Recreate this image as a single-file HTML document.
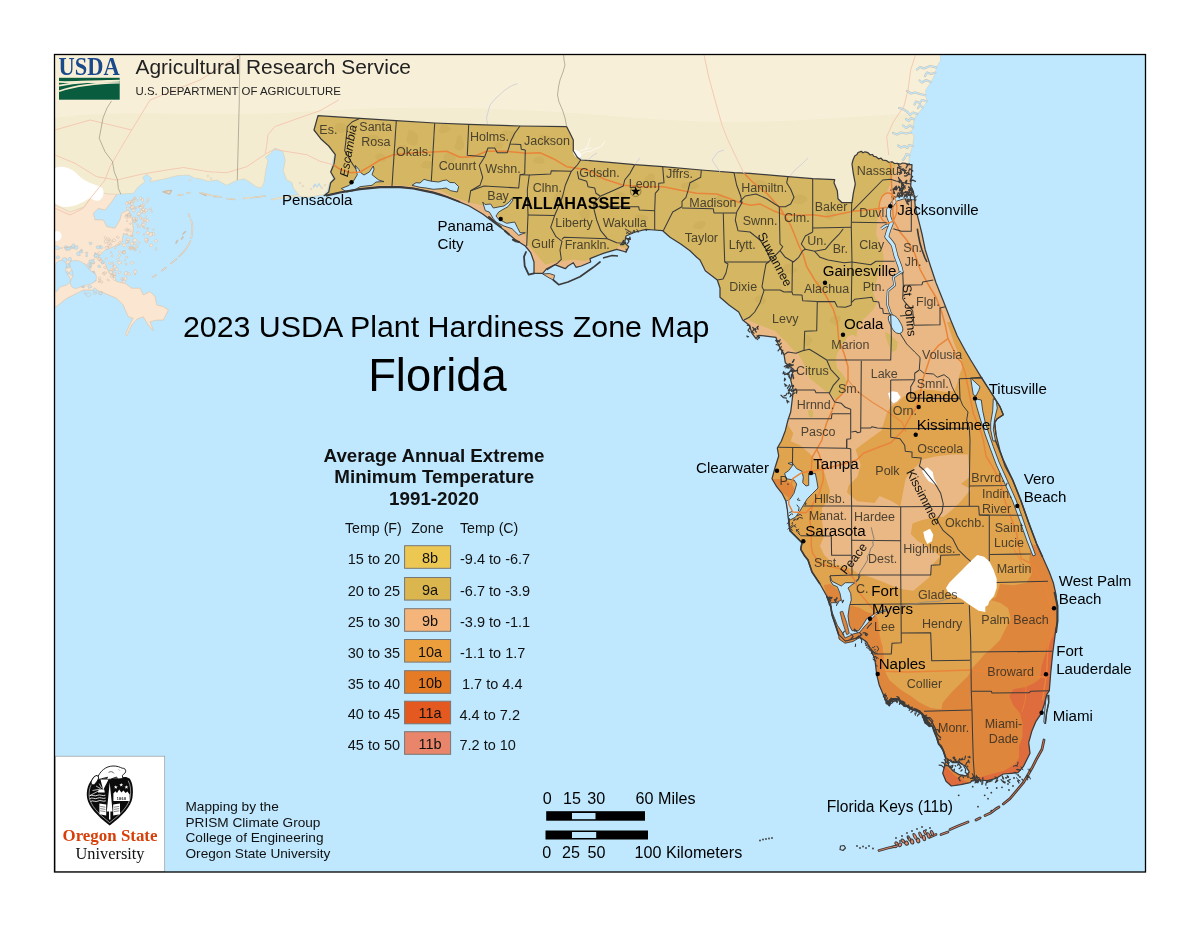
<!DOCTYPE html>
<html lang="en"><head><meta charset="utf-8"><title>2023 USDA Plant Hardiness Zone Map - Florida</title>
<style>
html,body{margin:0;padding:0;background:#fff;}
body{width:1200px;height:927px;overflow:hidden;position:relative;font-family:"Liberation Sans",Arial,sans-serif;}
svg{position:absolute;left:0;top:0;display:block}
text{font-family:"Liberation Sans",Arial,sans-serif;}
.cty{font-size:12.5px;fill:#4a3b1c;}
.city{font-size:14.5px;fill:#000;}
.lg{font-size:13.5px;fill:#111;}
.serif{font-family:"Liberation Serif","Times New Roman",serif;}
</style></head><body>
<svg width="1200" height="927" viewBox="0 0 1200 927">
<defs><clipPath id="frame"><rect x="55" y="55" width="1090" height="817"/></clipPath></defs>
<rect x="0" y="0" width="1200" height="927" fill="#fff"/>
<rect x="55" y="55" width="1090" height="817" fill="#bfe8ff"/>
<g clip-path="url(#frame)">
<path d="M55.0,55.0 L940.0,55.0 L940.0,60.7 L936.0,67.3 L935.3,72.7 L930.7,82.0 L925.3,90.0 L925.3,95.3 L926.7,101.3 L922.7,107.3 L917.3,114.0 L914.0,119.3 L913.3,127.3 L910.7,132.7 L914.0,135.3 L912.7,146.0 L909.3,155.3 L908.7,163.3 L912.0,166.0 L905.0,170.0 L870.0,175.0 L856.0,206.0 L835.0,206.0 L830.0,190.0 L600.0,175.0 L560.0,140.0 L340.0,135.0 L333.0,160.0 L330.7,172.0 L333.0,178.7 L329.5,183.0 L327.5,190.0 L324.0,194.7 L316.0,196.0 L306.7,197.3 L298.7,196.0 L280.0,198.7 L272.0,200.0 L271.0,199.0 L280.0,197.3 L298.7,194.7 L293.3,188.0 L292.0,182.7 L286.7,180.0 L283.3,170.7 L285.3,160.0 L282.7,151.3 L274.7,148.0 L270.7,153.3 L265.3,157.3 L268.0,160.0 L266.0,169.3 L264.0,182.7 L261.3,188.0 L256.0,186.7 L250.7,182.7 L244.0,178.7 L236.0,180.7 L226.7,185.3 L217.3,180.0 L208.0,181.3 L200.0,178.7 L195.0,178.3 L188.3,175.0 L176.7,175.8 L163.3,179.2 L150.0,181.7 L151.7,178.3 L146.7,174.2 L142.5,177.5 L145.0,181.7 L138.3,186.7 L133.3,193.3 L116.7,194.2 L111.7,201.7 L105.0,210.0 L98.3,208.3 L93.3,213.3 L95.0,220.0 L103.3,220.0 L106.7,226.7 L115.0,228.3 L120.0,220.0 L121.7,213.3 L128.3,210.0 L131.7,216.7 L133.3,230.0 L131.7,236.7 L123.3,233.3 L121.7,243.3 L113.3,246.7 L105.0,250.0 L98.3,256.7 L105.0,263.3 L108.3,271.7 L116.7,281.7 L125.0,283.3 L131.7,288.3 L140.0,288.3 L143.3,295.0 L150.0,291.7 L155.0,296.7 L156.7,305.0 L163.3,306.7 L168.3,310.0 L163.3,320.0 L156.7,320.0 L150.0,321.7 L153.3,330.8 L148.3,325.0 L143.3,316.7 L137.0,319.0 L131.7,325.0 L126.7,335.8 L125.5,334.5 L130.0,324.0 L133.3,318.3 L128.3,316.7 L123.3,305.0 L116.7,298.3 L105.0,293.3 L96.7,290.0 L83.3,290.0 L66.7,298.3 L55.0,307.5Z" fill="#f4ecd1" stroke="#d9c9a8" stroke-width="0.5" />
<defs><clipPath id="northclip"><path d="M55.0,55.0 L940.0,55.0 L940.0,60.7 L936.0,67.3 L935.3,72.7 L930.7,82.0 L925.3,90.0 L925.3,95.3 L926.7,101.3 L922.7,107.3 L917.3,114.0 L914.0,119.3 L913.3,127.3 L910.7,132.7 L914.0,135.3 L912.7,146.0 L909.3,155.3 L908.7,163.3 L912.0,166.0 L905.0,170.0 L870.0,175.0 L856.0,206.0 L835.0,206.0 L830.0,190.0 L600.0,175.0 L560.0,140.0 L340.0,135.0 L333.0,160.0 L330.7,172.0 L333.0,178.7 L329.5,183.0 L327.5,190.0 L324.0,194.7 L316.0,196.0 L306.7,197.3 L298.7,196.0 L280.0,198.7 L272.0,200.0 L271.0,199.0 L280.0,197.3 L298.7,194.7 L293.3,188.0 L292.0,182.7 L286.7,180.0 L283.3,170.7 L285.3,160.0 L282.7,151.3 L274.7,148.0 L270.7,153.3 L265.3,157.3 L268.0,160.0 L266.0,169.3 L264.0,182.7 L261.3,188.0 L256.0,186.7 L250.7,182.7 L244.0,178.7 L236.0,180.7 L226.7,185.3 L217.3,180.0 L208.0,181.3 L200.0,178.7 L195.0,178.3 L188.3,175.0 L176.7,175.8 L163.3,179.2 L150.0,181.7 L151.7,178.3 L146.7,174.2 L142.5,177.5 L145.0,181.7 L138.3,186.7 L133.3,193.3 L116.7,194.2 L111.7,201.7 L105.0,210.0 L98.3,208.3 L93.3,213.3 L95.0,220.0 L103.3,220.0 L106.7,226.7 L115.0,228.3 L120.0,220.0 L121.7,213.3 L128.3,210.0 L131.7,216.7 L133.3,230.0 L131.7,236.7 L123.3,233.3 L121.7,243.3 L113.3,246.7 L105.0,250.0 L98.3,256.7 L105.0,263.3 L108.3,271.7 L116.7,281.7 L125.0,283.3 L131.7,288.3 L140.0,288.3 L143.3,295.0 L150.0,291.7 L155.0,296.7 L156.7,305.0 L163.3,306.7 L168.3,310.0 L163.3,320.0 L156.7,320.0 L150.0,321.7 L153.3,330.8 L148.3,325.0 L143.3,316.7 L137.0,319.0 L131.7,325.0 L126.7,335.8 L125.5,334.5 L130.0,324.0 L133.3,318.3 L128.3,316.7 L123.3,305.0 L116.7,298.3 L105.0,293.3 L96.7,290.0 L83.3,290.0 L66.7,298.3 L55.0,307.5Z"/></clipPath></defs>
<path d="M55.0,205.0 L70.0,212.0 L84.0,207.0 L92.0,196.0 L100.0,192.0 L108.0,194.0 L116.7,194.2 L111.7,201.7 L105.0,210.0 L98.3,208.3 L93.3,213.3 L95.0,220.0 L103.3,220.0 L106.7,226.7 L115.0,228.3 L120.0,220.0 L121.7,213.3 L128.3,210.0 L131.7,216.7 L133.3,230.0 L131.7,236.7 L123.3,233.3 L121.7,243.3 L113.3,246.7 L105.0,250.0 L98.3,256.7 L105.0,263.3 L108.3,271.7 L116.7,281.7 L125.0,283.3 L131.7,288.3 L140.0,288.3 L143.3,295.0 L150.0,291.7 L155.0,296.7 L156.7,305.0 L163.3,306.7 L168.3,310.0 L163.3,320.0 L156.7,320.0 L150.0,321.7 L153.3,330.8 L148.3,325.0 L143.3,316.7 L137.0,319.0 L131.7,325.0 L126.7,335.8 L125.5,334.5 L130.0,324.0 L133.3,318.3 L128.3,316.7 L123.3,305.0 L116.7,298.3 L105.0,293.3 L96.7,290.0 L83.3,290.0 L66.7,298.3 L55.0,307.5Z" fill="#fbe6d1" stroke="#d8c2ab" stroke-width="0.5" />
<path d="M55,118 C120,108 200,118 300,112 C420,104 520,108 640,118 C740,126 800,120 870,116 C900,114 920,112 945,110 L945,55 L55,55Z" fill="#f7f0da" opacity="0.8" clip-path="url(#northclip)"/>
<path d="M55,168 C62,165 72,168 78,175 C84,181 92,184 99,186 C105,188 105,197 100,200 C95,203 92,197 88,199 C82,203 74,207 66,207 C61,207 57,205 55,203Z" fill="#fff"/>
<ellipse cx="57" cy="236" rx="4.5" ry="5" fill="#fff"/>
<defs><clipPath id="flclip"><path d="M318.0,115.7 L360.0,118.3 L396.0,120.7 L434.7,123.0 L468.7,124.4 L520.0,126.0 L566.7,126.7 L570.0,133.3 L573.3,140.0 L573.3,150.7 L577.3,157.3 L580.7,160.0 L590.0,160.7 L634.7,164.7 L662.7,166.7 L701.3,170.0 L734.0,172.7 L750.0,173.4 L788.0,176.7 L812.7,178.7 L834.7,179.7 L834.0,182.7 L837.3,190.7 L838.0,198.7 L842.0,202.7 L852.0,202.7 L853.3,193.3 L855.3,184.0 L853.3,173.3 L852.0,164.0 L853.0,160.0 L854.7,156.0 L857.0,154.5 L858.0,152.5 L861.3,151.3 L863.0,152.8 L865.0,151.8 L868.0,152.7 L870.0,154.8 L872.5,154.5 L874.0,156.5 L876.0,156.7 L878.5,158.8 L881.0,158.2 L883.0,160.2 L886.7,160.7 L889.0,162.4 L892.0,161.8 L894.5,163.5 L897.3,163.3 L900.0,164.2 L902.5,163.0 L905.3,163.3 L908.0,164.6 L912.0,164.7 L911.3,176.7 L910.7,186.0 L913.3,191.3 L914.7,199.3 L915.3,207.3 L918.7,220.7 L922.0,234.0 L925.3,250.0 L930.7,266.7 L936.0,282.7 L944.0,302.7 L950.7,320.0 L957.3,336.0 L965.3,350.7 L970.7,360.0 L981.3,377.3 L993.3,396.0 L1000.0,406.7 L1003.3,414.7 L997.3,418.7 L994.7,422.7 L996.0,434.7 L1000.0,450.7 L1005.3,466.7 L1012.7,480.0 L1020.7,500.0 L1028.7,522.7 L1036.7,544.0 L1042.7,557.3 L1049.3,572.0 L1053.3,582.7 L1056.0,594.7 L1057.3,606.7 L1057.3,621.3 L1055.3,633.3 L1052.7,653.3 L1050.7,673.3 L1049.3,690.7 L1046.7,694.7 L1044.0,705.3 L1041.3,713.3 L1036.0,721.3 L1032.0,730.7 L1028.7,742.7 L1030.0,753.3 L1027.3,758.7 L1023.3,766.7 L1018.0,772.7 L1011.3,773.3 L1003.3,774.0 L995.3,778.7 L987.3,780.7 L979.3,780.0 L972.7,780.0 L970.0,782.7 L960.7,784.7 L951.3,786.0 L946.0,781.3 L942.7,773.3 L944.7,765.3 L946.0,758.7 L943.3,750.7 L938.7,744.0 L936.7,737.3 L932.7,726.7 L924.7,721.3 L922.0,713.3 L920.0,712.0 L912.0,709.3 L904.0,705.3 L898.7,698.7 L891.3,698.7 L889.3,705.3 L886.0,701.3 L882.7,693.3 L879.3,685.3 L876.7,674.7 L875.3,662.7 L874.0,657.0 L871.0,650.7 L866.7,642.0 L860.0,637.3 L854.7,638.7 L845.3,641.3 L838.7,634.7 L834.7,622.7 L832.0,614.7 L830.7,606.7 L826.7,596.0 L820.0,584.0 L812.0,572.0 L808.0,560.0 L804.7,556.0 L800.7,549.3 L802.0,542.7 L795.3,536.0 L790.0,530.7 L788.7,521.3 L787.3,509.3 L786.0,501.3 L782.0,493.3 L776.7,486.7 L772.0,478.7 L775.3,466.7 L778.7,456.0 L777.3,448.0 L781.3,441.3 L785.3,430.7 L788.0,420.0 L790.7,412.0 L792.0,401.3 L793.3,390.7 L790.7,380.0 L793.3,369.3 L785.3,362.7 L784.0,354.7 L780.0,348.0 L777.3,342.0 L776.0,337.3 L758.7,335.3 L756.0,338.7 L752.0,333.3 L749.3,325.3 L742.7,320.0 L738.7,312.0 L729.3,305.3 L720.0,297.3 L720.0,288.0 L717.3,280.0 L705.3,270.7 L700.0,260.0 L696.7,257.3 L690.0,250.7 L680.7,244.0 L670.0,237.3 L662.7,230.7 L654.0,230.0 L646.0,229.3 L635.3,232.0 L626.0,236.0 L624.7,242.7 L628.7,246.7 L626.0,252.0 L616.7,249.3 L603.3,253.3 L590.0,258.7 L590.7,262.0 L581.3,266.0 L576.0,267.3 L573.3,262.7 L568.0,266.0 L565.3,268.7 L554.7,264.7 L546.7,268.7 L542.7,273.3 L534.0,273.3 L534.0,262.0 L530.7,252.7 L525.3,246.0 L514.7,239.3 L504.0,230.0 L493.3,222.0 L482.7,214.0 L469.3,206.0 L453.3,199.3 L440.0,194.0 L433.3,192.0 L413.3,188.0 L400.0,186.7 L380.0,186.7 L360.0,188.7 L340.0,192.0 L324.0,195.7 L328.7,192.0 L330.7,182.7 L334.7,178.7 L330.7,172.0 L334.0,164.0 L335.3,154.7 L328.7,146.0 L320.7,138.7 L314.0,130.0Z"/></clipPath></defs>
<g clip-path="url(#flclip)">
<rect x="300" y="100" width="800" height="720" fill="#d5b662"/>
<path d="M417.4,135.3 Q418.5,138.0 417.9,141.4 Q417.4,144.8 415.2,145.6 Q413.0,146.4 411.4,145.1 Q409.7,143.9 407.9,142.6 Q406.1,141.2 406.7,138.4 Q407.3,135.5 408.1,132.5 Q408.8,129.6 410.8,130.2 Q412.8,130.9 414.6,131.7 Q416.3,132.5 417.4,135.3ZM406.7,147.7 Q406.9,150.0 406.3,151.9 Q405.7,153.8 404.2,154.1 Q402.6,154.4 401.0,155.0 Q399.3,155.6 398.8,153.6 Q398.2,151.6 398.2,150.0 Q398.2,148.3 398.8,146.5 Q399.4,144.6 401.1,144.9 Q402.7,145.2 404.6,145.4 Q406.5,145.5 406.7,147.7ZM449.8,128.0 Q451.3,129.0 450.0,130.1 Q448.8,131.3 447.4,132.1 Q446.0,133.0 443.6,133.3 Q441.2,133.7 439.8,132.2 Q438.3,130.7 439.3,129.3 Q440.4,127.8 440.7,125.9 Q441.0,124.1 443.7,123.8 Q446.4,123.5 447.4,125.2 Q448.3,127.0 449.8,128.0ZM463.5,142.2 Q464.2,144.0 464.0,146.3 Q463.7,148.7 462.2,149.5 Q460.7,150.3 459.2,150.2 Q457.6,150.1 455.6,148.8 Q453.6,147.5 455.1,144.8 Q456.6,142.1 456.7,138.9 Q456.8,135.6 458.9,135.3 Q461.1,135.0 462.0,137.7 Q462.8,140.4 463.5,142.2ZM455.5,156.4 Q456.0,158.0 455.4,159.5 Q454.8,161.0 452.6,162.2 Q450.5,163.3 447.6,162.9 Q444.8,162.6 444.2,160.9 Q443.6,159.2 443.7,158.0 Q443.8,156.8 444.3,155.1 Q444.8,153.5 447.6,153.2 Q450.4,153.0 452.7,153.9 Q454.9,154.9 455.5,156.4ZM515.4,132.7 Q514.5,135.0 515.1,137.1 Q515.8,139.3 512.9,139.4 Q510.1,139.5 507.5,139.9 Q504.9,140.3 504.0,138.4 Q503.2,136.6 502.0,134.7 Q500.9,132.8 503.0,131.3 Q505.1,129.9 507.5,130.6 Q509.9,131.2 513.0,130.9 Q516.2,130.5 515.4,132.7ZM502.7,144.6 Q503.3,146.0 502.3,147.1 Q501.4,148.3 500.1,148.8 Q498.7,149.3 497.3,149.1 Q495.9,148.9 495.1,148.0 Q494.4,147.0 494.5,146.0 Q494.5,145.0 495.1,143.9 Q495.7,142.8 497.3,142.4 Q498.9,142.0 500.5,142.6 Q502.1,143.2 502.7,144.6ZM346.2,126.2 Q346.2,128.0 345.7,129.6 Q345.2,131.1 343.3,132.4 Q341.4,133.7 339.2,132.8 Q336.9,131.9 336.0,130.6 Q335.1,129.3 334.9,127.9 Q334.6,126.6 335.3,124.8 Q335.9,123.0 338.6,123.0 Q341.2,123.1 343.6,123.7 Q346.1,124.4 346.2,126.2ZM379.2,137.8 Q379.4,140.0 378.8,141.9 Q378.1,143.8 375.7,144.6 Q373.2,145.3 371.3,144.4 Q369.4,143.4 367.6,142.6 Q365.8,141.7 366.5,140.2 Q367.1,138.7 367.6,136.8 Q368.1,134.9 370.6,135.0 Q373.1,135.1 376.1,135.4 Q379.0,135.6 379.2,137.8ZM385.4,156.4 Q386.1,158.0 385.7,159.8 Q385.3,161.7 383.0,161.6 Q380.8,161.6 379.3,161.3 Q377.9,161.0 377.0,160.1 Q376.2,159.2 375.4,157.8 Q374.6,156.4 375.9,155.2 Q377.2,153.9 379.1,153.5 Q381.1,153.0 382.8,153.9 Q384.6,154.8 385.4,156.4ZM433.2,163.7 Q434.1,165.0 433.0,166.2 Q432.0,167.4 430.1,168.3 Q428.3,169.2 426.2,168.5 Q424.0,167.9 422.0,167.2 Q420.0,166.5 421.2,165.3 Q422.4,164.1 422.8,162.6 Q423.1,161.1 425.7,160.8 Q428.4,160.5 430.3,161.5 Q432.3,162.5 433.2,163.7ZM551.2,138.2 Q551.0,140.0 550.3,141.3 Q549.6,142.6 547.9,143.5 Q546.2,144.4 543.2,144.9 Q540.3,145.4 539.6,143.5 Q538.9,141.5 538.7,140.0 Q538.5,138.4 539.3,136.3 Q540.0,134.2 543.0,135.1 Q546.1,136.0 548.8,136.2 Q551.5,136.4 551.2,138.2ZM543.8,159.0 Q544.3,160.0 544.5,161.4 Q544.6,162.8 542.8,163.4 Q541.0,163.9 539.0,163.8 Q537.0,163.7 534.7,162.8 Q532.4,162.0 533.4,160.3 Q534.5,158.6 536.0,157.8 Q537.5,157.0 539.2,156.6 Q540.9,156.3 542.1,157.2 Q543.2,158.1 543.8,159.0ZM605.6,173.4 Q604.9,175.0 604.5,176.1 Q604.2,177.2 602.8,178.5 Q601.3,179.8 598.7,179.6 Q596.0,179.3 594.4,178.0 Q592.8,176.6 593.5,175.2 Q594.2,173.7 594.7,171.8 Q595.3,169.9 598.1,171.0 Q600.8,172.0 603.6,171.9 Q606.3,171.7 605.6,173.4ZM625.0,194.7 Q625.7,196.0 625.5,197.6 Q625.3,199.1 623.1,199.4 Q620.9,199.6 619.0,199.6 Q617.0,199.7 615.3,198.7 Q613.5,197.7 613.9,196.1 Q614.4,194.5 615.5,193.2 Q616.7,191.9 618.8,192.0 Q621.0,192.1 622.6,192.8 Q624.3,193.4 625.0,194.7ZM654.6,177.5 Q654.2,180.0 654.8,182.6 Q655.4,185.3 653.3,186.6 Q651.2,187.9 649.6,186.0 Q648.0,184.0 645.7,183.4 Q643.5,182.8 644.3,180.3 Q645.0,177.9 646.4,176.6 Q647.7,175.4 649.4,174.0 Q651.1,172.6 653.1,173.8 Q655.1,175.0 654.6,177.5ZM697.5,183.8 Q699.8,185.0 698.7,186.8 Q697.7,188.6 694.5,189.1 Q691.4,189.6 688.3,189.6 Q685.2,189.6 682.7,188.3 Q680.3,187.0 681.0,185.1 Q681.7,183.3 684.5,182.8 Q687.3,182.4 689.3,181.7 Q691.3,181.0 693.3,181.8 Q695.3,182.5 697.5,183.8ZM726.7,198.5 Q728.7,200.0 728.0,202.3 Q727.2,204.5 724.4,205.8 Q721.7,207.0 719.1,205.7 Q716.6,204.4 715.6,202.9 Q714.6,201.5 714.1,199.9 Q713.5,198.2 715.4,197.3 Q717.2,196.3 719.4,194.9 Q721.5,193.5 723.2,195.2 Q724.8,197.0 726.7,198.5ZM767.0,183.3 Q768.1,185.0 767.0,186.8 Q765.9,188.5 763.5,189.0 Q761.1,189.5 759.2,188.9 Q757.4,188.3 756.2,187.3 Q755.0,186.3 754.0,184.7 Q752.9,183.2 754.5,181.6 Q756.0,180.1 758.6,180.0 Q761.3,179.9 763.5,180.7 Q765.8,181.5 767.0,183.3ZM806.9,198.1 Q807.7,200.0 805.7,201.2 Q803.8,202.4 802.4,203.5 Q801.1,204.7 799.2,204.1 Q797.3,203.5 794.2,203.0 Q791.1,202.4 792.0,200.3 Q793.0,198.1 794.6,196.5 Q796.1,195.0 798.7,194.6 Q801.3,194.3 803.7,195.2 Q806.1,196.2 806.9,198.1ZM835.3,213.8 Q837.1,215.0 835.0,216.0 Q832.9,217.0 832.0,218.8 Q831.2,220.5 829.3,219.6 Q827.5,218.6 826.8,217.4 Q826.2,216.2 825.6,214.8 Q825.1,213.5 826.0,212.0 Q826.8,210.4 829.0,209.9 Q831.2,209.4 832.3,211.0 Q833.4,212.6 835.3,213.8ZM564.7,197.0 Q564.0,200.0 564.5,202.9 Q565.1,205.7 563.0,205.8 Q560.8,205.9 558.8,206.7 Q556.8,207.5 555.4,205.2 Q554.0,202.9 553.7,199.8 Q553.3,196.8 555.0,194.6 Q556.7,192.5 559.0,191.8 Q561.2,191.2 563.3,192.5 Q565.4,193.9 564.7,197.0ZM590.2,212.9 Q589.5,215.0 589.5,216.6 Q589.5,218.2 587.9,219.9 Q586.4,221.6 584.0,220.8 Q581.6,220.0 581.3,218.1 Q581.0,216.3 579.6,214.6 Q578.2,212.9 580.0,211.5 Q581.8,210.2 584.1,209.3 Q586.4,208.4 588.6,209.6 Q590.8,210.8 590.2,212.9ZM647.6,216.8 Q649.5,218.0 647.8,219.3 Q646.2,220.6 643.6,220.8 Q641.1,221.0 638.7,221.1 Q636.3,221.2 635.6,220.1 Q634.8,218.9 634.7,218.0 Q634.7,217.0 635.2,215.6 Q635.6,214.2 638.5,214.2 Q641.3,214.3 643.5,215.0 Q645.6,215.6 647.6,216.8ZM705.4,222.9 Q705.1,225.0 704.2,226.2 Q703.3,227.3 702.1,228.4 Q700.9,229.5 699.1,229.3 Q697.2,229.2 694.7,228.3 Q692.2,227.4 693.5,225.4 Q694.8,223.4 696.2,222.4 Q697.6,221.4 699.2,221.3 Q700.8,221.1 703.3,221.0 Q705.7,220.9 705.4,222.9ZM752.0,243.3 Q753.8,245.0 753.0,247.3 Q752.3,249.6 749.2,249.9 Q746.2,250.2 743.4,250.4 Q740.7,250.6 739.0,248.8 Q737.4,247.1 737.6,245.0 Q737.8,243.0 740.0,242.2 Q742.3,241.4 744.2,241.0 Q746.1,240.5 748.2,241.1 Q750.3,241.7 752.0,243.3ZM795.9,268.8 Q798.4,270.0 796.1,271.4 Q793.9,272.8 792.3,273.3 Q790.8,273.7 788.9,274.0 Q787.1,274.3 785.8,273.0 Q784.5,271.7 783.5,269.7 Q782.6,267.7 784.3,265.8 Q785.9,264.0 788.6,263.8 Q791.3,263.7 792.3,265.7 Q793.3,267.6 795.9,268.8ZM828.0,283.3 Q829.5,285.0 828.3,286.9 Q827.1,288.7 824.3,289.5 Q821.5,290.3 818.7,289.8 Q816.0,289.4 814.2,288.0 Q812.5,286.7 813.6,285.3 Q814.8,283.8 815.3,282.1 Q815.7,280.4 818.4,280.8 Q821.1,281.1 823.8,281.4 Q826.5,281.6 828.0,283.3ZM764.9,298.8 Q766.4,300.0 765.7,301.8 Q765.0,303.5 763.0,304.1 Q761.0,304.6 759.5,303.7 Q758.0,302.8 756.5,302.2 Q755.0,301.5 754.6,299.9 Q754.2,298.2 755.7,297.1 Q757.1,295.9 759.1,295.4 Q761.1,295.0 762.3,296.3 Q763.4,297.6 764.9,298.8ZM840.7,317.7 Q840.9,320.0 839.6,321.3 Q838.2,322.7 837.1,324.5 Q836.1,326.3 834.4,325.1 Q832.8,323.9 831.0,323.0 Q829.2,322.1 829.6,320.2 Q830.1,318.2 831.4,317.2 Q832.8,316.2 834.3,316.0 Q835.8,315.7 838.1,315.6 Q840.4,315.4 840.7,317.7ZM812.0,338.8 Q813.6,340.0 812.1,341.3 Q810.5,342.6 809.7,344.5 Q808.9,346.4 807.1,346.1 Q805.2,345.7 804.1,344.0 Q803.0,342.2 803.4,340.2 Q803.8,338.2 804.7,336.7 Q805.7,335.2 807.2,335.1 Q808.7,335.1 809.5,336.3 Q810.4,337.6 812.0,338.8Z" fill="#b99a4a" opacity="0.22"/>
<path d="M896.0,150.0 L896.0,163.3 L892.0,179.3 L886.7,192.7 L880.0,199.3 L878.7,210.0 L877.3,222.0 L876.0,234.0 L881.3,246.7 L882.7,250.7 L884.0,261.3 L877.3,277.3 L873.2,292.9 L877.1,302.0 L873.2,309.8 L868.0,315.0 L862.8,320.1 L857.7,327.9 L856.4,337.0 L852.5,334.4 L847.3,337.0 L844.7,342.1 L840.8,347.3 L837.0,353.8 L835.7,360.3 L837.0,368.0 L842.1,373.2 L847.3,381.0 L846.0,390.0 L840.8,396.5 L835.7,400.0 L830.5,393.9 L824.0,390.0 L816.2,383.6 L809.8,378.4 L805.9,368.0 L802.0,360.3 L798.1,353.8 L791.7,348.6 L785.2,340.8 L782.7,338.7 L774.7,330.7 L760.0,325.3 L745.3,318.7 L735.0,318.0 L700.0,400.0 L700.0,850.0 L1100.0,850.0 L1100.0,150.0Z" fill="#eab884" stroke="none" stroke-width="1" />
<path d="M884.9,331.8 L890.0,334.4 L893.9,338.3 L897.8,342.1 L896.5,349.9 L891.3,352.5 L888.7,344.7 L886.1,338.3Z" fill="#d5b662" stroke="none" stroke-width="1" />
<path d="M808.0,410.7 L811.0,409.5 L813.3,412.0 L813.0,417.3 L809.0,417.0Z" fill="#d5b662" stroke="none" stroke-width="1" />
<path d="M430.0,186.0 L440.0,190.5 L453.0,197.0 L470.7,203.0 L484.0,205.5 L496.0,214.0 L502.7,220.7 L514.7,230.0 L525.3,235.3 L528.0,244.7 L536.0,254.0 L545.3,264.7 L553.3,262.5 L560.0,261.5 L573.3,259.5 L585.0,261.0 L600.0,255.0 L604.0,262.0 L560.0,290.0 L520.0,285.0 L430.0,200.0Z" fill="#eab884" stroke="none" stroke-width="1" />
<path d="M618.0,246.0 L624.0,248.0 L630.0,246.0 L632.0,256.0 L616.0,256.0Z" fill="#eab884" stroke="none" stroke-width="1" />
<path d="M694.0,256.0 L698.0,258.0 L703.0,266.0 L708.0,271.0 L716.0,278.0 L712.0,284.0 L690.0,262.0Z" fill="#eab884" stroke="none" stroke-width="1" />
<path d="M330.0,194.0 L345.0,190.0 L360.0,187.2 L380.0,185.2 L400.0,185.2 L413.3,186.5 L433.3,190.5 L440.0,193.0 L440.0,200.0 L330.0,200.0Z" fill="#eab884" stroke="none" stroke-width="1" />
<path d="M780.0,426.0 L788.0,425.0 L793.3,433.3 L790.7,441.3 L800.0,445.3 L808.0,452.0 L846.0,454.0 L850.0,450.0 L855.5,449.4 L869.4,439.0 L881.4,430.4 L886.7,413.3 L890.7,406.7 L897.3,402.7 L902.7,397.3 L909.3,393.3 L920.0,389.3 L933.3,390.0 L946.7,392.0 L954.7,390.7 L957.3,382.7 L960.0,373.3 L962.7,366.7 L961.3,360.0 L954.7,345.3 L950.7,333.3 L947.0,322.0 L1100.0,322.0 L1100.0,850.0 L700.0,850.0 L700.0,426.0Z" fill="#e0a44f" stroke="none" stroke-width="1" />
<path d="M812.0,440.0 L850.0,440.0 L856.0,448.0 L855.5,449.4 L860.7,464.9 L857.3,477.0 L848.6,485.6 L846.9,492.5 L857.3,501.2 L874.5,502.9 L879.7,496.0 L891.8,501.2 L900.4,506.4 L905.6,478.7 L912.0,470.0 L917.7,464.9 L921.2,459.7 L936.7,456.3 L952.2,454.5 L967.8,454.5 L969.5,477.0 L960.9,483.9 L971.2,489.1 L960.9,501.2 L952.2,509.8 L943.6,516.7 L936.7,516.7 L921.2,520.2 L912.5,523.6 L910.8,534.0 L917.7,540.9 L929.8,547.8 L940.2,556.4 L933.3,563.4 L929.3,577.3 L921.3,584.0 L913.3,590.7 L902.7,589.3 L890.7,585.3 L881.3,581.3 L870.7,577.3 L857.3,573.3 L852.0,568.7 L844.0,566.7 L833.3,564.0 L824.0,554.7 L820.0,546.0 L824.0,536.0 L822.0,520.0 L822.0,508.0 L828.0,500.0 L830.0,490.7 L827.3,482.7 L824.7,473.3 L818.0,462.0 L812.0,456.0 L808.0,452.0Z" fill="#eab884" stroke="none" stroke-width="1" />
<path d="M1040.0,546.0 L1030.7,544.0 L1029.3,560.0 L1032.0,573.3 L1026.7,582.7 L1013.3,585.3 L1000.0,584.0 L996.0,597.3 L990.7,600.0 L1000.0,602.7 L1008.0,608.0 L1010.7,618.7 L1005.3,629.3 L1000.0,640.0 L990.7,649.3 L984.0,654.7 L978.7,661.3 L973.3,666.7 L968.0,676.0 L960.0,684.0 L950.7,693.3 L942.7,702.7 L941.3,709.3 L930.7,708.0 L920.0,702.7 L910.7,696.0 L900.0,689.3 L889.3,680.0 L885.3,672.0 L882.7,653.3 L882.7,646.7 L878.7,636.0 L877.3,625.3 L876.0,614.7 L866.7,612.0 L860.0,608.0 L850.0,605.3 L840.0,606.0 L820.0,640.0 L820.0,820.0 L1100.0,820.0 L1100.0,546.0Z" fill="#de863c" stroke="none" stroke-width="1" />
<path d="M824.0,585.0 L830.0,584.0 L836.0,588.0 L840.0,593.0 L841.5,600.0 L836.0,603.0 L830.7,603.0 L826.0,596.0Z" fill="#de863c" stroke="none" stroke-width="1" />
<path d="M772.0,479.0 L779.0,479.0 L786.0,480.0 L792.0,484.0 L795.0,490.0 L792.0,496.0 L789.0,498.0 L784.0,494.0 L778.0,488.0Z" fill="#de863c" stroke="none" stroke-width="1" />
<path d="M1060.0,628.0 L1055.0,628.0 L1053.3,636.0 L1048.0,644.0 L1045.3,654.7 L1041.3,666.7 L1040.0,678.7 L1034.7,682.7 L1026.7,686.7 L1013.3,689.3 L1009.3,696.0 L1013.3,705.3 L1020.0,713.3 L1022.7,724.0 L1022.5,737.3 L1019.0,746.0 L1019.0,757.7 L1015.0,763.7 L1008.3,768.3 L1003.7,771.0 L991.7,774.0 L979.3,777.5 L979.0,800.0 L1100.0,800.0 L1100.0,628.0Z" fill="#df6c3c" stroke="none" stroke-width="1" />
<path d="M938.0,765.0 L944.0,765.3 L950.0,770.7 L955.3,776.0 L963.3,780.0 L968.7,783.3 L968.0,792.0 L938.0,792.0Z" fill="#df6c3c" stroke="none" stroke-width="1" />
</g>
<path d="M133.7,235.2 L132.5,235.9 L131.6,236.4 L130.6,236.0 L130.7,234.7 L131.7,234.1 L132.7,234.2ZM144.9,209.7 L144.8,211.1 L142.9,210.7 L141.4,210.5 L141.7,209.0 L142.9,208.2 L144.1,208.3ZM135.8,198.2 L135.5,199.4 L134.3,199.4 L133.4,198.7 L133.5,197.6 L134.3,197.1 L135.8,196.8ZM148.2,201.7 L147.8,202.5 L146.9,202.6 L145.7,202.2 L146.3,201.4 L146.8,200.7 L148.0,200.9ZM145.4,204.3 L144.6,205.0 L143.7,205.6 L142.5,204.8 L142.5,203.7 L143.7,203.5 L144.4,203.7ZM139.9,206.4 L139.6,206.8 L139.0,207.4 L138.4,206.7 L138.5,205.9 L139.2,205.8 L139.9,205.7ZM132.4,248.1 L131.0,248.9 L130.3,249.3 L129.1,248.6 L129.3,247.7 L130.2,246.9 L131.8,246.7ZM146.5,216.5 L146.3,217.0 L145.6,217.5 L145.2,216.9 L145.1,216.2 L145.6,215.5 L146.4,215.8ZM133.4,200.0 L133.1,200.6 L132.5,200.7 L132.0,200.4 L132.1,199.7 L132.5,199.2 L133.5,199.3ZM137.4,240.1 L136.0,241.7 L133.9,242.3 L133.1,240.9 L132.8,239.2 L134.2,238.8 L135.5,238.6ZM154.0,229.4 L154.2,230.2 L153.2,230.2 L152.8,229.7 L152.7,229.0 L153.2,228.5 L153.9,229.0ZM131.2,223.7 L131.0,224.3 L130.2,224.7 L129.7,224.1 L129.4,223.4 L130.2,222.9 L131.1,223.0ZM134.5,247.9 L133.7,248.5 L133.0,248.8 L131.6,248.4 L132.6,247.6 L132.9,246.8 L134.1,246.9ZM142.0,217.7 L141.7,218.7 L140.5,219.0 L139.7,218.3 L139.5,217.2 L140.5,216.9 L141.3,217.1ZM140.3,251.7 L140.4,252.4 L139.6,252.6 L139.3,251.9 L139.4,251.5 L139.8,251.2 L140.2,251.4ZM128.3,203.0 L127.9,204.3 L126.4,205.2 L125.4,203.7 L125.7,202.4 L126.6,201.4 L127.9,202.1ZM148.8,228.1 L148.7,229.0 L147.8,228.6 L147.0,228.4 L147.2,227.7 L147.7,227.5 L148.5,227.5ZM134.8,207.2 L133.8,208.4 L132.1,209.3 L130.4,207.9 L130.3,206.3 L132.0,205.7 L134.2,205.6ZM152.4,234.5 L151.7,236.0 L150.0,236.7 L148.5,235.3 L149.7,234.0 L150.0,232.4 L152.5,232.7ZM137.6,220.7 L136.8,221.2 L136.3,221.1 L135.8,221.0 L135.9,220.4 L136.3,220.1 L136.8,220.2ZM130.6,216.3 L130.3,218.0 L128.2,217.4 L127.3,216.8 L127.0,215.4 L128.0,214.5 L129.7,215.1ZM136.1,249.8 L135.8,250.6 L134.7,251.2 L134.3,250.2 L133.4,248.9 L134.8,248.8 L135.8,249.0ZM157.5,240.9 L156.9,241.8 L155.8,242.6 L154.5,241.6 L154.8,240.5 L155.8,239.4 L157.1,239.8ZM149.3,221.0 L148.4,221.8 L147.4,222.2 L145.8,221.7 L145.6,220.1 L147.0,218.9 L148.6,219.8ZM149.5,232.8 L148.9,234.2 L147.0,234.3 L145.8,233.5 L145.9,232.2 L147.1,231.5 L148.6,231.6ZM130.3,203.1 L130.6,204.3 L129.2,204.0 L128.7,203.4 L128.8,202.7 L129.2,202.3 L130.8,201.8ZM144.4,205.6 L143.6,207.1 L141.9,206.5 L140.5,206.4 L141.3,205.1 L141.9,204.7 L142.7,204.8ZM138.1,224.7 L138.3,225.3 L137.5,225.3 L137.0,224.9 L136.6,224.2 L137.5,223.7 L138.2,224.0ZM134.3,207.9 L132.5,208.7 L131.7,209.3 L130.6,208.6 L130.1,207.2 L131.6,206.7 L133.0,206.8ZM153.0,245.2 L152.3,245.9 L151.2,246.9 L149.3,246.1 L150.1,244.5 L151.1,243.6 L152.5,244.3ZM129.6,239.3 L129.8,240.7 L127.9,240.5 L126.3,240.1 L126.5,238.6 L128.0,238.3 L129.1,238.5ZM153.0,211.7 L152.1,212.2 L151.4,212.4 L150.9,212.0 L151.0,211.4 L151.3,210.6 L152.3,210.9ZM138.0,200.3 L138.2,201.3 L137.1,201.2 L136.8,200.5 L136.3,199.7 L137.0,199.3 L137.8,199.5ZM138.0,246.6 L138.0,247.4 L136.8,247.8 L135.4,247.3 L136.2,246.3 L136.9,245.9 L138.3,245.4ZM144.6,227.7 L144.6,228.3 L143.8,228.6 L143.6,227.9 L143.5,227.4 L143.9,226.9 L144.7,227.0ZM131.1,230.5 L130.8,232.1 L129.3,231.5 L128.6,230.9 L127.6,229.6 L129.1,229.0 L130.4,229.5ZM129.0,242.0 L129.0,242.8 L128.2,242.7 L126.7,242.6 L127.5,241.6 L128.0,241.1 L128.9,241.4ZM139.7,215.2 L139.4,215.9 L138.7,215.7 L137.7,215.6 L137.9,214.8 L138.6,214.6 L139.2,214.8ZM132.2,202.1 L130.9,203.3 L129.5,203.7 L127.7,203.0 L128.2,201.2 L129.5,200.7 L130.9,200.9ZM149.4,199.1 L149.1,200.0 L148.0,200.4 L147.3,199.5 L147.0,198.6 L148.1,198.1 L148.8,198.5ZM143.8,225.9 L143.0,227.1 L141.7,227.0 L140.6,226.4 L140.9,225.5 L141.7,224.8 L142.4,225.3ZM143.0,211.3 L142.6,212.9 L141.3,213.1 L140.6,211.8 L139.9,210.6 L141.2,209.4 L142.6,210.3ZM135.5,218.8 L135.8,220.2 L134.1,220.2 L132.3,219.6 L132.7,218.0 L134.1,217.1 L135.4,217.5ZM145.5,224.6 L144.0,225.4 L142.8,226.5 L141.6,225.2 L141.6,223.6 L142.9,223.4 L144.5,223.0ZM154.8,234.1 L154.4,235.1 L153.0,235.2 L152.0,234.7 L152.3,233.5 L152.7,232.1 L154.4,232.9ZM156.7,250.0 L156.2,250.7 L155.6,250.5 L155.2,250.3 L155.1,249.9 L155.6,249.5 L156.1,249.5ZM127.3,214.9 L126.8,215.7 L126.0,215.7 L125.1,215.3 L125.3,214.5 L126.0,214.2 L127.2,214.0ZM140.8,205.9 L140.7,206.4 L140.0,206.4 L139.0,206.3 L139.5,205.5 L140.0,205.4 L140.8,205.2ZM130.1,214.3 L129.9,215.8 L128.6,215.5 L126.6,215.2 L128.0,213.9 L128.5,213.0 L129.7,213.0ZM139.7,232.6 L138.7,233.5 L137.7,233.7 L136.8,233.2 L136.6,232.1 L137.9,231.9 L138.8,231.8ZM136.3,249.4 L136.1,250.3 L135.2,250.2 L134.4,249.9 L134.4,248.8 L135.2,248.5 L135.9,248.8ZM136.8,243.7 L136.2,244.6 L134.9,244.7 L133.5,244.4 L134.3,243.1 L134.9,242.6 L135.7,242.9ZM151.4,208.8 L151.4,209.6 L150.4,209.6 L149.0,209.3 L149.2,208.3 L150.4,208.2 L151.2,207.9ZM137.2,218.5 L137.1,219.5 L135.7,219.8 L135.3,218.8 L134.8,217.9 L135.7,217.0 L136.8,217.6ZM143.9,221.6 L143.2,222.1 L142.5,222.8 L141.9,222.0 L141.9,221.1 L142.6,220.4 L143.5,220.8ZM137.2,207.4 L136.5,208.0 L135.7,208.7 L134.7,207.9 L135.0,207.0 L135.9,206.8 L136.9,206.6ZM136.5,208.2 L136.3,208.8 L135.7,208.7 L135.1,208.5 L135.2,207.9 L135.7,207.7 L136.2,207.8ZM129.0,241.8 L128.1,242.8 L126.8,243.6 L125.7,242.3 L125.3,240.9 L126.9,240.6 L128.0,240.6ZM128.8,230.8 L127.8,231.3 L127.3,231.4 L126.7,231.2 L126.3,230.4 L127.2,229.8 L128.2,229.9ZM135.3,198.4 L135.3,199.2 L134.5,199.1 L134.0,198.7 L133.9,198.0 L134.5,197.7 L135.1,197.8ZM130.8,214.7 L130.6,215.8 L128.9,216.9 L127.0,215.6 L128.0,213.9 L129.0,212.9 L130.4,213.8ZM129.4,208.1 L128.4,209.0 L127.3,209.8 L126.6,208.5 L126.0,207.5 L127.6,207.2 L128.7,206.9ZM147.5,210.2 L147.4,211.6 L145.4,212.1 L144.5,210.7 L144.4,209.6 L145.5,208.9 L146.8,208.9ZM157.0,248.0 L156.9,248.5 L156.2,248.7 L155.7,248.3 L155.7,247.7 L156.2,247.4 L156.7,247.6ZM128.5,229.4 L127.6,230.3 L126.2,230.8 L124.7,230.1 L125.4,228.8 L126.3,228.2 L127.3,228.5ZM134.1,201.2 L134.4,202.7 L132.5,202.2 L131.5,201.7 L131.2,200.5 L132.5,200.3 L133.9,200.2ZM140.8,214.1 L140.0,215.5 L138.1,216.2 L136.8,214.9 L137.3,213.6 L138.3,212.1 L140.2,212.4ZM144.3,234.8 L144.4,235.6 L143.7,235.3 L143.2,235.0 L143.3,234.5 L143.6,233.7 L144.6,234.0ZM133.1,203.6 L132.9,204.8 L131.3,205.0 L130.7,204.1 L130.0,203.0 L131.3,201.9 L132.7,202.3ZM146.4,220.1 L146.2,221.0 L144.9,221.7 L144.5,220.6 L143.6,219.3 L145.0,218.5 L146.7,218.8ZM139.5,226.8 L139.4,227.6 L138.6,227.3 L137.5,227.2 L137.9,226.4 L138.5,225.7 L139.1,226.2ZM132.9,236.3 L133.1,237.1 L132.1,236.8 L131.7,236.6 L131.2,235.9 L132.1,235.3 L132.8,235.8ZM133.4,244.0 L132.4,244.8 L131.5,245.3 L130.2,244.7 L130.6,243.4 L131.3,242.1 L133.2,242.2ZM127.4,217.0 L127.4,218.4 L126.1,218.2 L125.3,217.5 L124.7,216.3 L126.2,215.9 L127.3,216.1ZM148.5,238.8 L148.3,239.3 L147.7,239.6 L147.1,239.1 L147.1,238.4 L147.7,237.9 L148.2,238.4ZM133.4,248.3 L132.6,249.2 L131.4,250.0 L130.4,249.1 L129.4,247.4 L131.5,247.1 L133.5,246.7ZM148.3,239.9 L147.5,241.6 L145.6,242.1 L144.8,240.5 L144.6,239.3 L145.3,237.7 L146.8,238.9ZM143.5,207.6 L141.3,208.4 L140.4,208.6 L139.4,208.2 L139.2,207.1 L140.3,206.3 L141.6,206.7ZM127.6,220.8 L127.5,221.5 L126.7,221.6 L126.3,221.1 L126.5,220.6 L126.9,220.4 L127.4,220.3ZM128.1,233.9 L127.3,234.4 L126.8,234.8 L125.9,234.3 L126.4,233.6 L126.7,233.0 L127.3,233.5ZM131.4,248.1 L130.9,249.5 L129.3,249.7 L129.0,248.5 L127.5,247.1 L129.3,246.4 L130.7,246.8ZM135.9,220.9 L135.6,222.3 L134.0,222.9 L133.7,221.3 L133.1,220.1 L134.2,219.2 L135.8,219.9ZM136.8,221.2 L135.9,222.0 L134.9,222.0 L134.2,221.6 L133.4,220.6 L134.7,219.9 L135.6,220.5ZM145.6,212.3 L144.7,213.5 L143.3,213.3 L142.6,212.9 L142.8,211.9 L143.3,211.4 L144.2,211.5ZM143.6,199.9 L143.7,201.3 L142.1,201.4 L141.1,200.5 L141.4,199.5 L142.2,198.5 L143.5,198.9ZM148.0,241.3 L147.8,242.3 L146.8,242.9 L145.6,242.0 L145.8,240.8 L146.8,240.4 L147.9,240.3ZM141.6,198.2 L141.3,199.5 L139.9,199.5 L139.3,198.7 L139.2,197.7 L139.9,197.0 L141.5,197.0ZM147.6,229.1 L147.6,229.7 L146.7,230.1 L145.9,229.6 L145.8,228.6 L146.8,228.4 L147.7,228.4ZM135.3,210.3 L134.6,211.7 L132.8,211.7 L132.1,210.7 L131.7,209.6 L132.7,208.8 L133.9,209.2ZM140.7,242.6 L139.9,243.3 L139.1,243.4 L138.5,243.1 L138.7,242.2 L139.2,241.9 L139.9,242.0ZM144.4,219.0 L143.4,219.9 L142.3,220.2 L141.5,219.4 L141.2,218.2 L142.3,217.8 L143.1,218.4Z" fill="#fbe6d1" stroke="#cdbfae" stroke-width="0.5"/>
<path d="M99.8,281.9 L99.3,282.4 L98.7,283.0 L98.0,282.3 L98.0,281.5 L98.8,281.3 L99.4,281.2ZM107.1,241.5 L106.5,242.8 L104.9,243.2 L104.3,242.2 L104.3,241.1 L105.0,239.7 L106.7,240.3ZM125.6,251.9 L125.2,253.3 L123.5,253.7 L121.7,252.8 L122.6,251.1 L123.8,250.8 L125.3,250.4ZM123.2,278.9 L123.2,280.3 L121.8,280.3 L121.0,279.4 L121.0,278.4 L121.7,277.3 L122.9,277.7ZM126.7,278.5 L126.9,279.9 L124.9,280.2 L123.9,279.2 L124.2,277.9 L125.1,276.7 L126.5,277.4ZM111.6,244.7 L111.3,245.7 L110.0,246.2 L108.9,245.3 L109.1,244.2 L110.1,243.5 L111.4,243.6ZM134.2,262.8 L132.8,263.8 L131.7,264.2 L130.7,263.4 L130.9,262.3 L131.8,261.8 L133.2,261.7ZM136.7,271.6 L136.2,272.7 L135.0,273.7 L133.6,272.6 L134.1,271.1 L134.8,269.4 L136.3,270.5ZM126.7,264.2 L127.0,265.1 L125.7,265.0 L125.4,264.4 L125.2,263.9 L125.6,263.0 L126.5,263.5ZM109.7,280.0 L109.1,281.0 L108.1,281.1 L107.3,280.5 L106.9,279.4 L108.0,279.0 L108.8,279.5ZM112.6,271.9 L112.3,273.6 L110.1,273.2 L108.8,272.9 L109.4,271.3 L110.1,270.3 L111.3,270.8ZM104.8,274.0 L104.7,275.1 L103.5,274.9 L102.9,274.4 L102.0,273.2 L103.4,272.6 L104.9,272.8ZM100.6,260.5 L100.7,261.1 L99.8,261.1 L99.2,260.8 L99.4,260.2 L99.8,260.0 L100.5,259.9ZM101.2,278.6 L100.0,279.5 L98.9,279.8 L98.4,279.1 L98.3,278.1 L99.0,277.0 L100.4,277.4ZM119.4,259.8 L118.7,260.5 L117.8,261.1 L117.2,260.2 L116.7,259.2 L118.0,258.5 L119.1,258.9ZM116.4,266.4 L115.6,268.0 L114.0,268.1 L113.5,266.9 L112.9,265.8 L114.0,264.6 L115.5,265.4ZM114.1,262.8 L113.5,263.5 L112.8,263.4 L112.2,263.2 L112.3,262.4 L112.6,261.7 L113.3,262.3ZM110.8,263.4 L110.9,264.4 L109.7,264.2 L108.6,264.0 L108.4,262.8 L109.5,262.0 L110.9,262.3ZM120.7,255.9 L120.2,256.6 L119.3,257.2 L118.9,256.4 L118.5,255.3 L119.4,254.4 L120.7,254.7ZM125.5,260.3 L125.2,260.7 L124.7,261.3 L124.3,260.5 L124.5,260.0 L124.7,259.4 L125.5,259.7ZM102.8,281.8 L102.6,282.9 L101.1,283.2 L100.5,282.3 L100.5,281.5 L101.2,280.8 L102.3,280.9ZM113.1,255.9 L112.9,256.7 L112.0,256.9 L110.7,256.4 L111.5,255.5 L112.0,254.5 L113.0,255.0ZM116.0,278.8 L115.7,280.3 L113.7,280.3 L113.0,279.3 L113.2,278.3 L113.8,276.9 L114.9,277.8ZM116.1,240.4 L115.1,241.6 L113.7,241.6 L112.4,241.1 L112.4,239.6 L113.7,238.8 L115.0,239.6ZM121.4,252.1 L120.5,253.1 L119.6,253.2 L118.9,252.5 L118.4,251.5 L119.6,251.0 L120.7,251.3ZM112.0,252.4 L111.9,253.1 L111.0,252.9 L110.2,252.8 L110.0,252.0 L110.9,251.7 L111.6,251.8ZM106.8,237.7 L106.6,238.9 L105.4,239.3 L104.3,238.2 L104.2,237.1 L105.3,236.3 L106.2,237.0ZM120.4,272.6 L120.2,273.3 L119.2,274.0 L118.5,273.1 L118.5,272.1 L119.2,271.4 L120.5,271.6ZM126.1,245.3 L125.1,246.4 L123.4,246.8 L122.6,245.9 L122.3,244.6 L123.5,243.8 L125.5,243.8ZM115.8,274.1 L115.8,275.4 L114.1,275.6 L113.0,274.8 L113.3,273.5 L114.1,272.8 L115.7,272.5ZM121.8,262.9 L119.9,263.8 L118.6,264.2 L117.5,263.4 L117.6,262.4 L118.6,261.4 L120.6,261.1ZM118.6,269.5 L117.6,270.4 L116.7,270.4 L115.3,270.2 L115.5,268.8 L116.6,267.8 L117.9,268.5ZM125.5,252.3 L124.6,253.4 L123.2,254.1 L122.5,252.7 L122.7,251.8 L123.5,251.3 L124.2,251.5ZM130.6,273.7 L130.5,274.9 L128.9,275.3 L128.0,274.2 L128.4,273.4 L129.1,272.3 L130.0,273.0ZM122.9,279.4 L122.8,279.9 L122.2,280.0 L121.9,279.6 L121.6,279.1 L122.2,278.6 L122.8,278.8ZM100.5,259.0 L100.2,260.4 L98.3,260.5 L97.3,259.5 L97.1,258.3 L98.4,257.6 L99.9,257.8ZM124.1,251.7 L123.8,252.2 L123.2,252.5 L122.1,252.1 L122.8,251.4 L123.1,250.6 L124.3,250.8ZM106.3,267.8 L105.6,268.6 L104.7,268.5 L104.0,268.3 L103.5,267.3 L104.4,266.5 L105.8,266.9ZM116.1,248.4 L115.7,248.8 L115.1,249.2 L114.4,248.7 L114.8,248.0 L115.2,247.7 L115.9,247.6ZM100.4,280.5 L100.5,281.4 L99.5,281.3 L99.0,280.8 L99.2,280.2 L99.4,279.3 L100.4,279.6ZM113.0,241.4 L112.4,241.9 L111.9,242.3 L111.5,241.7 L111.1,241.0 L111.9,240.6 L112.4,241.0ZM108.9,247.7 L108.1,249.3 L106.3,249.0 L105.3,248.2 L104.9,246.9 L106.3,246.5 L108.3,246.1ZM110.2,240.5 L109.7,241.1 L108.8,241.5 L108.2,240.9 L107.9,240.0 L108.8,239.4 L109.5,239.9ZM117.8,245.6 L117.3,246.2 L116.6,246.3 L115.6,246.0 L115.9,245.1 L116.5,244.4 L117.3,244.9ZM114.0,269.8 L112.8,271.0 L111.6,270.8 L109.9,270.6 L109.9,269.1 L111.3,268.1 L113.5,268.2ZM135.6,274.4 L135.2,274.7 L134.8,275.3 L134.3,274.6 L134.5,274.1 L134.8,273.5 L135.7,273.7ZM101.9,253.4 L100.7,254.6 L99.2,254.5 L98.0,254.0 L98.1,252.7 L98.9,251.4 L100.6,252.2ZM107.6,258.5 L106.6,259.1 L105.8,259.8 L104.6,259.1 L105.3,258.2 L105.9,257.7 L106.8,257.7ZM114.8,270.5 L113.9,271.4 L113.0,271.6 L112.4,271.0 L111.7,269.8 L113.0,269.4 L113.9,269.8ZM127.7,257.4 L127.3,258.0 L126.5,258.1 L125.9,257.8 L125.4,256.8 L126.6,256.7 L127.6,256.4ZM108.5,246.6 L108.8,247.6 L107.7,247.8 L106.9,247.0 L107.2,246.3 L107.7,245.7 L108.4,246.1ZM110.7,239.0 L109.9,240.5 L108.3,240.3 L107.4,239.7 L107.6,238.6 L108.3,237.6 L109.2,238.2ZM101.3,258.9 L100.8,259.7 L99.9,260.5 L98.7,259.6 L98.2,258.2 L99.9,257.7 L101.2,258.0ZM119.7,237.4 L118.6,238.5 L117.3,238.3 L116.6,237.8 L116.0,236.8 L117.2,236.0 L118.1,236.6ZM125.3,281.3 L124.4,282.5 L122.8,283.4 L122.2,281.8 L122.2,280.9 L123.0,280.2 L124.1,280.3ZM120.6,242.4 L120.1,243.4 L119.1,243.5 L118.1,242.9 L118.3,242.1 L119.1,241.5 L120.4,241.3ZM113.6,275.7 L112.8,276.9 L111.1,277.6 L109.8,276.4 L110.7,275.2 L111.4,274.4 L113.1,274.2ZM113.7,265.5 L113.7,266.1 L113.0,266.2 L112.2,265.9 L112.7,265.2 L113.0,264.7 L113.8,264.8ZM107.0,272.9 L105.7,273.7 L104.5,274.5 L103.2,273.6 L103.4,272.1 L104.7,271.7 L105.7,272.0ZM114.5,275.0 L113.2,276.0 L112.1,276.6 L111.4,275.4 L111.3,274.6 L112.1,273.6 L113.1,274.4ZM119.5,244.7 L119.1,245.3 L118.3,245.4 L117.9,244.9 L117.5,244.1 L118.3,244.0 L119.3,243.9ZM110.4,243.3 L110.1,244.8 L108.8,244.3 L107.6,244.2 L107.5,242.5 L108.9,242.2 L110.0,242.3ZM126.9,273.6 L127.0,274.9 L125.6,274.9 L123.8,274.4 L124.7,272.9 L125.4,271.4 L127.5,271.9ZM116.2,276.2 L115.1,277.0 L114.0,277.2 L113.3,276.8 L112.4,275.4 L114.0,275.2 L115.2,275.2Z" fill="#fbe6d1" stroke="#cdbfae" stroke-width="0.5"/>
<path d="M102.8,293.3 L101.7,294.7 L100.0,294.8 L98.7,294.2 L98.5,292.3 L99.9,291.6 L102.0,291.3ZM100.3,247.4 L99.7,248.6 L98.5,248.8 L96.6,248.4 L96.1,246.4 L98.4,245.7 L100.7,245.7ZM85.8,265.5 L85.2,266.6 L84.0,266.9 L82.3,266.3 L83.6,265.0 L84.0,263.5 L85.2,264.6ZM82.8,249.9 L82.3,250.8 L81.0,251.2 L80.6,250.2 L80.9,249.6 L81.1,248.9 L81.9,249.4ZM66.2,266.6 L65.8,267.1 L64.9,267.7 L64.5,266.9 L64.7,266.3 L64.9,265.6 L66.1,265.7ZM67.8,267.1 L67.0,267.6 L66.4,267.7 L65.8,267.5 L65.4,266.7 L66.4,266.4 L67.2,266.5ZM59.8,247.5 L59.2,249.4 L56.7,249.5 L55.3,248.5 L54.8,246.6 L56.7,245.7 L58.3,246.5ZM91.9,265.3 L91.5,267.0 L89.6,267.2 L88.9,266.0 L89.1,264.7 L89.8,264.3 L91.4,264.1ZM81.5,281.9 L81.2,282.9 L80.3,283.4 L78.5,282.7 L78.9,281.2 L80.2,280.3 L81.6,281.0ZM75.2,246.1 L75.2,247.8 L72.5,248.4 L70.5,247.0 L71.8,245.3 L72.8,243.8 L74.5,244.3ZM95.8,274.2 L94.9,275.9 L93.3,276.0 L92.0,275.0 L91.7,273.3 L93.1,272.6 L94.5,273.1ZM89.8,275.9 L89.5,277.7 L86.8,279.0 L86.2,276.6 L85.1,274.7 L86.8,273.0 L89.2,274.4ZM104.6,262.2 L103.7,263.4 L102.2,263.6 L100.8,262.9 L101.4,261.6 L102.0,260.2 L103.8,261.1ZM94.9,262.5 L94.1,264.0 L92.3,263.6 L91.2,263.1 L90.7,261.8 L91.9,260.7 L93.3,261.3ZM84.4,278.0 L84.2,279.1 L83.1,279.7 L82.7,278.3 L82.1,277.3 L83.2,277.0 L84.5,276.8ZM73.2,247.5 L71.7,248.5 L70.6,248.9 L69.7,248.1 L69.8,246.9 L70.8,246.3 L72.0,246.5ZM80.6,281.0 L79.3,281.9 L78.2,283.3 L76.6,282.0 L77.4,280.3 L78.2,279.2 L79.7,279.7ZM86.0,266.7 L86.2,268.6 L83.7,269.1 L82.8,267.4 L82.3,265.8 L83.6,264.4 L85.3,265.5ZM87.8,252.6 L87.5,253.6 L86.7,253.4 L85.6,253.2 L85.7,252.2 L86.7,252.0 L87.4,252.1ZM66.9,260.1 L66.5,261.9 L64.0,262.5 L62.8,261.2 L61.9,259.1 L63.9,257.7 L66.5,258.0ZM96.1,253.4 L95.7,253.9 L95.0,254.1 L94.7,253.6 L94.3,253.0 L95.0,252.7 L95.7,252.6ZM62.6,248.2 L61.8,248.6 L61.3,248.7 L60.7,248.5 L61.1,248.0 L61.3,247.7 L62.1,247.4ZM59.9,257.6 L58.8,258.8 L57.6,258.9 L56.1,258.3 L56.2,256.9 L57.5,255.8 L59.1,256.3ZM84.9,286.5 L84.5,287.7 L83.1,287.6 L82.6,286.9 L82.2,286.0 L83.2,285.6 L84.2,285.8ZM72.6,262.6 L72.6,263.5 L71.6,263.7 L71.1,262.9 L70.4,262.0 L71.6,261.8 L72.3,262.0ZM71.6,259.2 L71.2,261.0 L69.4,261.0 L67.5,260.2 L68.2,258.4 L69.5,257.3 L71.0,257.6ZM94.9,272.1 L94.5,273.2 L93.0,273.1 L92.0,272.7 L92.6,271.7 L93.1,271.4 L94.2,271.3ZM70.3,248.7 L69.7,250.7 L68.0,250.1 L66.1,249.8 L66.0,247.7 L68.0,246.9 L70.7,246.6ZM96.4,280.5 L94.6,281.7 L93.2,282.2 L92.1,281.2 L91.3,279.3 L92.8,278.0 L94.5,279.5ZM97.8,255.6 L96.8,256.6 L95.4,257.2 L94.5,256.3 L94.4,254.9 L95.4,253.9 L96.8,254.4ZM85.6,293.1 L85.2,294.2 L84.2,293.9 L83.9,293.4 L83.8,292.8 L84.2,292.3 L85.1,292.2ZM59.8,265.1 L59.4,265.7 L58.6,265.6 L57.9,265.3 L58.3,264.8 L58.6,264.5 L59.2,264.5ZM91.0,294.6 L90.0,296.1 L88.4,296.9 L86.4,295.6 L86.3,293.6 L88.5,292.5 L89.9,293.4ZM97.0,293.3 L95.4,294.1 L94.3,294.4 L93.6,293.7 L93.5,292.7 L94.2,291.8 L95.4,292.2ZM93.8,261.3 L94.1,263.7 L91.4,263.2 L88.8,262.7 L89.0,260.3 L91.5,259.8 L94.4,259.1ZM103.7,263.0 L103.4,263.7 L102.6,264.0 L101.6,263.4 L101.5,262.5 L102.5,261.8 L103.5,262.2ZM68.0,247.0 L65.9,247.9 L64.9,248.2 L64.5,247.5 L64.1,246.6 L64.9,245.9 L66.5,245.7ZM79.5,253.4 L80.4,255.4 L77.7,255.8 L76.6,254.4 L76.8,252.6 L78.0,251.8 L80.3,251.6ZM101.9,293.4 L101.5,294.1 L100.6,294.4 L99.3,293.9 L100.0,293.1 L100.5,292.0 L101.8,292.3ZM68.6,248.5 L67.6,249.8 L65.9,250.6 L65.2,249.0 L63.9,247.6 L66.2,247.5 L68.2,246.8ZM83.2,252.0 L82.2,253.0 L81.2,253.1 L80.2,252.6 L79.4,251.3 L80.8,249.8 L82.0,251.2ZM82.9,286.1 L82.8,287.0 L81.7,287.4 L81.1,286.5 L80.9,285.4 L81.9,285.4 L83.1,285.0ZM70.0,265.4 L70.3,267.3 L67.4,268.3 L65.5,266.5 L65.5,264.2 L67.6,263.4 L69.3,263.9ZM100.7,266.6 L100.3,267.7 L99.0,267.6 L98.2,267.2 L97.5,265.9 L98.9,265.0 L100.2,265.6ZM97.2,290.4 L96.5,292.2 L94.7,291.8 L93.5,291.3 L93.2,289.4 L94.6,288.1 L96.4,289.2ZM90.8,264.9 L90.7,266.4 L88.7,266.3 L86.8,265.7 L87.0,264.0 L88.7,263.6 L90.6,263.3ZM92.1,287.0 L89.9,287.9 L88.7,288.7 L88.4,287.5 L87.6,286.3 L89.0,285.7 L90.3,285.5ZM87.5,255.6 L87.4,256.5 L86.3,256.9 L85.7,256.1 L85.8,255.2 L86.3,254.1 L87.5,254.8ZM72.3,264.7 L71.5,266.7 L69.7,266.8 L68.3,265.8 L68.3,264.0 L69.6,262.7 L71.3,263.4ZM94.4,272.5 L94.2,273.6 L92.8,273.5 L91.7,273.1 L91.6,271.9 L92.6,271.2 L94.1,271.3ZM83.6,286.8 L82.8,287.4 L82.3,287.5 L81.4,287.2 L81.4,286.3 L82.2,285.7 L82.9,286.3ZM74.4,272.6 L73.9,274.6 L71.4,275.4 L69.2,273.7 L69.8,271.6 L71.5,270.4 L72.9,271.4ZM98.9,256.2 L97.1,257.6 L95.7,257.7 L94.3,257.2 L93.8,255.2 L95.6,253.6 L98.1,253.8ZM102.9,247.2 L102.8,248.2 L101.2,249.0 L99.9,248.1 L99.3,246.3 L101.3,245.9 L102.2,246.4ZM83.9,271.7 L84.0,272.6 L82.7,273.0 L81.7,272.3 L82.0,271.2 L82.7,270.7 L83.7,271.0ZM68.6,272.7 L68.5,274.0 L67.0,274.0 L66.2,273.1 L65.8,272.1 L67.0,271.5 L67.9,271.8ZM81.6,266.8 L79.9,268.5 L78.4,268.0 L77.0,267.6 L76.9,266.1 L77.9,264.4 L79.8,265.2ZM91.9,243.2 L91.5,244.5 L90.1,244.9 L89.5,243.7 L88.8,242.5 L90.3,242.4 L91.6,242.0ZM65.6,266.8 L65.3,267.8 L64.0,268.1 L63.2,267.3 L63.0,266.4 L63.9,265.3 L65.2,265.6ZM78.0,247.3 L77.8,248.8 L75.6,249.7 L73.9,248.2 L73.8,246.2 L76.0,246.1 L77.5,245.7ZM91.0,268.4 L90.5,269.3 L88.9,270.6 L88.2,269.2 L87.7,267.6 L89.2,267.1 L90.5,267.0Z" fill="#bfe8ff" stroke="#cdbfae" stroke-width="0.5"/>
<path d="M57,262 C62,258 68,262 66,268 C64,274 72,276 70,282 C66,288 60,284 58,290 L55.6,292 L55.6,264Z" fill="#bfe8ff" stroke="#cdbfae" stroke-width="0.5"/>
<path d="M70,262 C76,258 84,262 88,268 C92,274 98,272 96,280 C92,286 84,284 78,288 C72,290 68,284 72,278 C76,272 68,268 70,262Z" fill="#bfe8ff" stroke="#cdbfae" stroke-width="0.5"/>
<path d="M188.3,214.2 L190,217.5 M191.2,220 C193,226 192.6,232 191.2,238 M190.4,241 C188,247 184,252 179,256.5 M176.5,258.8 L171,263.5 M166,267.5 L162,270.6 M156,275 L152.5,277.4 M183,234 L185.5,231.5 M181.5,239 L183,237 M176,243 L177.5,240.5" fill="none" stroke="#cdbfae" stroke-width="1.6" stroke-linecap="round"/>
<path d="M188.3,214.2 L190,217.5 M191.2,220 C193,226 192.6,232 191.2,238 M190.4,241 C188,247 184,252 179,256.5 M176.5,258.8 L171,263.5 M166,267.5 L162,270.6 M156,275 L152.5,277.4" fill="none" stroke="#fbe6d1" stroke-width="0.7" stroke-linecap="round"/>
<path d="M163,191.8 L168,190.8 L171.5,190.6 L169.5,194 Z M178,195.2 L183,194.4 M187,193 L190,192.6 M200.5,192.6 C207,194.5 214,196.2 221.5,197 M226.5,198.4 L235,199.4 M243.5,198.4 L250,197.6 M200,192.7 L206,195.5 M214,196.6 L220,196.7 M244,198 L253,197.5 L265.3,196" fill="#fbe6d1" stroke="#cdbfae" stroke-width="1.5" stroke-linecap="round" stroke-linejoin="round"/>
<path d="M178,195.2 L183,194.4 M187,193 L190,192.6 M200.5,192.6 C207,194.5 214,196.2 221.5,197 M226.5,198.4 L235,199.4 M243.5,198.4 L250,197.6 M244,198 L253,197.5 L265.3,196" fill="none" stroke="#f4ecd1" stroke-width="0.6" stroke-linecap="round"/>
<circle cx="208" cy="176" r="0.9" fill="#f4ecd1" stroke="#cdbfae" stroke-width="0.4"/><circle cx="211" cy="178.5" r="0.9" fill="#f4ecd1" stroke="#cdbfae" stroke-width="0.4"/><circle cx="190" cy="180" r="0.9" fill="#f4ecd1" stroke="#cdbfae" stroke-width="0.4"/><circle cx="134" cy="201" r="0.9" fill="#f4ecd1" stroke="#cdbfae" stroke-width="0.4"/><circle cx="300" cy="183" r="0.9" fill="#f4ecd1" stroke="#cdbfae" stroke-width="0.4"/><circle cx="303" cy="186" r="0.9" fill="#f4ecd1" stroke="#cdbfae" stroke-width="0.4"/><circle cx="311" cy="189" r="0.9" fill="#f4ecd1" stroke="#cdbfae" stroke-width="0.4"/><circle cx="314" cy="186" r="0.9" fill="#f4ecd1" stroke="#cdbfae" stroke-width="0.4"/><circle cx="322" cy="188" r="0.9" fill="#f4ecd1" stroke="#cdbfae" stroke-width="0.4"/><circle cx="325" cy="185" r="0.9" fill="#f4ecd1" stroke="#cdbfae" stroke-width="0.4"/>
<path d="M313.3,188.0 L315.0,184.0 L317.0,187.0 L319.0,183.5 L321.0,187.5" fill="none" stroke="#bcd9ea" stroke-width="1.2" stroke-linejoin="round" />
<path d="M936.0,67.3 L930.0,66.0 L924.0,68.5 L920.0,67.0 L917.0,69.5" fill="none" stroke="#c8c2b2" stroke-width="2.2" stroke-linejoin="round" stroke-linecap="round"/>
<path d="M935.3,72.7 L931.0,74.0 L927.0,72.5 L925.0,76.0" fill="none" stroke="#c8c2b2" stroke-width="2.2" stroke-linejoin="round" stroke-linecap="round"/>
<path d="M930.7,82.0 L926.0,80.0 L922.0,82.5 L919.5,80.5" fill="none" stroke="#c8c2b2" stroke-width="2.2" stroke-linejoin="round" stroke-linecap="round"/>
<path d="M925.3,95.3 L920.0,94.0 L915.0,92.5 L911.0,93.5 L907.0,91.0" fill="none" stroke="#c8c2b2" stroke-width="2.2" stroke-linejoin="round" stroke-linecap="round"/>
<path d="M926.7,101.3 L922.0,100.0 L920.0,103.0 L916.0,101.5 L914.5,104.5" fill="none" stroke="#c8c2b2" stroke-width="2.2" stroke-linejoin="round" stroke-linecap="round"/>
<path d="M922.7,107.3 L920.0,105.0 L918.0,108.0" fill="none" stroke="#c8c2b2" stroke-width="2.2" stroke-linejoin="round" stroke-linecap="round"/>
<path d="M917.3,114.0 L913.0,112.5 L910.0,115.0 L907.5,112.0 L903.0,109.0 L899.0,108.0" fill="none" stroke="#c8c2b2" stroke-width="2.2" stroke-linejoin="round" stroke-linecap="round"/>
<path d="M914.0,119.3 L911.0,118.0 L909.0,121.0 L906.0,119.0" fill="none" stroke="#c8c2b2" stroke-width="2.2" stroke-linejoin="round" stroke-linecap="round"/>
<path d="M913.3,127.3 L910.0,125.5 L906.0,128.0 L903.0,125.5" fill="none" stroke="#c8c2b2" stroke-width="2.2" stroke-linejoin="round" stroke-linecap="round"/>
<path d="M910.7,132.7 L906.0,133.5 L901.0,132.5 L897.0,134.5 L893.0,133.0" fill="none" stroke="#c8c2b2" stroke-width="2.2" stroke-linejoin="round" stroke-linecap="round"/>
<path d="M912.7,146.0 L909.0,145.0 L907.5,148.0 L904.5,146.0 L901.0,147.5 L898.0,145.5" fill="none" stroke="#c8c2b2" stroke-width="2.2" stroke-linejoin="round" stroke-linecap="round"/>
<path d="M909.3,155.3 L906.5,154.0 L905.0,157.5 L903.0,160.0" fill="none" stroke="#c8c2b2" stroke-width="2.2" stroke-linejoin="round" stroke-linecap="round"/>
<path d="M936.0,67.3 L930.0,66.0 L924.0,68.5 L920.0,67.0 L917.0,69.5" fill="none" stroke="#bfe8ff" stroke-width="1.2" stroke-linejoin="round" stroke-linecap="round"/>
<path d="M935.3,72.7 L931.0,74.0 L927.0,72.5 L925.0,76.0" fill="none" stroke="#bfe8ff" stroke-width="1.2" stroke-linejoin="round" stroke-linecap="round"/>
<path d="M930.7,82.0 L926.0,80.0 L922.0,82.5 L919.5,80.5" fill="none" stroke="#bfe8ff" stroke-width="1.2" stroke-linejoin="round" stroke-linecap="round"/>
<path d="M925.3,95.3 L920.0,94.0 L915.0,92.5 L911.0,93.5 L907.0,91.0" fill="none" stroke="#bfe8ff" stroke-width="1.2" stroke-linejoin="round" stroke-linecap="round"/>
<path d="M926.7,101.3 L922.0,100.0 L920.0,103.0 L916.0,101.5 L914.5,104.5" fill="none" stroke="#bfe8ff" stroke-width="1.2" stroke-linejoin="round" stroke-linecap="round"/>
<path d="M922.7,107.3 L920.0,105.0 L918.0,108.0" fill="none" stroke="#bfe8ff" stroke-width="1.2" stroke-linejoin="round" stroke-linecap="round"/>
<path d="M917.3,114.0 L913.0,112.5 L910.0,115.0 L907.5,112.0 L903.0,109.0 L899.0,108.0" fill="none" stroke="#bfe8ff" stroke-width="1.2" stroke-linejoin="round" stroke-linecap="round"/>
<path d="M914.0,119.3 L911.0,118.0 L909.0,121.0 L906.0,119.0" fill="none" stroke="#bfe8ff" stroke-width="1.2" stroke-linejoin="round" stroke-linecap="round"/>
<path d="M913.3,127.3 L910.0,125.5 L906.0,128.0 L903.0,125.5" fill="none" stroke="#bfe8ff" stroke-width="1.2" stroke-linejoin="round" stroke-linecap="round"/>
<path d="M910.7,132.7 L906.0,133.5 L901.0,132.5 L897.0,134.5 L893.0,133.0" fill="none" stroke="#bfe8ff" stroke-width="1.2" stroke-linejoin="round" stroke-linecap="round"/>
<path d="M912.7,146.0 L909.0,145.0 L907.5,148.0 L904.5,146.0 L901.0,147.5 L898.0,145.5" fill="none" stroke="#bfe8ff" stroke-width="1.2" stroke-linejoin="round" stroke-linecap="round"/>
<path d="M909.3,155.3 L906.5,154.0 L905.0,157.5 L903.0,160.0" fill="none" stroke="#bfe8ff" stroke-width="1.2" stroke-linejoin="round" stroke-linecap="round"/>
<path d="M355.3,165.3 L358.7,169.3 L360.7,172.7 L364.0,175.0 L369.3,172.0 L373.3,166.0 L374.0,169.3 L372.0,174.7 L378.7,180.0 L384.0,181.6 L376.0,182.0 L372.0,185.3 L360.0,186.7 L353.3,190.7 L346.7,192.0 L341.3,188.5 L349.3,185.3 L353.3,181.3 L357.3,174.7 L356.0,169.3Z" fill="#bfe8ff" stroke="#3b3b3b" stroke-width="0.9" stroke-linejoin="round"/>
<path d="M412.0,185.3 L416.0,182.7 L420.0,183.0 L424.0,179.3 L428.0,180.5 L432.0,181.3 L438.7,182.0 L443.0,180.5 L446.7,180.0 L450.0,182.5 L454.7,182.7 L458.7,186.7 L457.3,192.0 L450.7,190.7 L446.0,188.0 L441.3,188.7 L433.3,189.3 L426.0,188.0 L420.0,187.3Z" fill="#bfe8ff" stroke="#3b3b3b" stroke-width="0.9" stroke-linejoin="round"/>
<path d="M482.7,202.0 L485.0,204.5 L490.7,204.0 L493.3,208.0 L500.0,206.7 L504.0,206.0 L509.3,202.0 L512.0,198.5 L513.0,200.0 L508.0,206.7 L502.0,210.0 L498.7,212.0 L496.0,216.0 L498.7,219.3 L506.7,223.3 L514.7,222.0 L517.3,227.3 L520.0,232.7 L525.3,232.7 L518.7,235.3 L512.0,228.7 L504.0,226.0 L496.0,222.0 L493.3,218.7 L489.3,212.0 L485.3,210.7Z" fill="#bfe8ff" stroke="#3b3b3b" stroke-width="0.9" stroke-linejoin="round"/>
<path d="M787.5,509.3 L786.0,501.3 L790.0,499.3 L794.0,493.3 L796.7,484.0 L794.0,480.0 L786.0,478.7 L784.7,473.3 L788.7,470.7 L792.7,465.3 L788.0,463.3 L792.0,462.5 L796.7,468.7 L802.0,471.3 L803.3,477.3 L802.7,482.7 L806.0,486.0 L808.7,485.3 L808.7,473.3 L809.3,474.7 L815.3,473.3 L816.7,480.0 L818.0,488.0 L812.7,493.3 L807.3,498.7 L803.3,505.3 L799.3,512.0 L795.3,517.3 L790.0,520.0 L788.7,521.3Z" fill="#bfe8ff" stroke="#3b3b3b" stroke-width="0.9" stroke-linejoin="round"/>
<path d="M787.2,509.3 L786.2,501.5 L789.0,500.0 L790.0,520.0 L788.9,521.3Z" fill="#bfe8ff" stroke="none" stroke-width="1" />
<path d="M830.0,576.0 L832.0,581.3 L837.3,584.0 L841.3,586.0 L845.3,582.7 L853.3,582.7 L858.7,578.7 L858.7,574.0 L860.0,576.0 L857.5,581.0 L852.0,584.7 L848.0,588.0 L850.7,593.3 L851.3,600.0 L849.3,606.7 L848.0,616.0 L849.3,625.3 L852.0,630.7 L858.7,630.7 L862.7,625.3 L866.7,618.7 L870.0,617.0 L876.0,612.7 L886.7,609.3 L887.0,610.5 L876.5,614.0 L870.5,620.0 L864.0,627.0 L859.5,632.5 L853.0,634.0 L849.3,636.0 L845.0,638.0 L842.7,633.3 L837.3,625.3 L834.7,618.7 L832.0,612.0 L830.7,602.7 L836.0,602.7 L841.3,600.0 L840.0,593.3 L837.3,586.7 L833.0,585.0 L830.5,581.0Z" fill="#bfe8ff" stroke="#3b3b3b" stroke-width="0.9" stroke-linejoin="round"/>
<path d="M840.0,612.0 L842.7,611.3 L846.7,622.7 L849.3,633.3 L846.7,634.7 L842.7,622.7Z" fill="#de863c" stroke="#3b3b3b" stroke-width="0.8" />
<path d="M913.3,198.0 L904.0,196.7 L896.0,199.3 L892.0,204.7 L888.5,210.0 L888.7,216.7 L891.3,223.3 L888.7,230.0 L886.7,236.7 L892.0,243.3 L893.3,245.3 L896.0,256.0 L900.0,266.7 L901.3,272.0" fill="none" stroke="#3b3b3b" stroke-width="4.6" stroke-linejoin="round" stroke-linecap="round"/>
<path d="M913.3,198.0 L904.0,196.7 L896.0,199.3 L892.0,204.7 L888.5,210.0 L888.7,216.7 L891.3,223.3 L888.7,230.0 L886.7,236.7 L892.0,243.3 L893.3,245.3 L896.0,256.0 L900.0,266.7 L901.3,272.0" fill="none" stroke="#bfe8ff" stroke-width="3.2" stroke-linejoin="round" stroke-linecap="round"/>
<path d="M881.3,228.7 L885.3,226.0 L888.0,225.0" fill="none" stroke="#3b3b3b" stroke-width="3" stroke-linejoin="round" />
<path d="M881.3,228.7 L885.3,226.0 L888.0,225.0" fill="none" stroke="#bfe8ff" stroke-width="1.8" stroke-linejoin="round" />
<path d="M901.3,272.0 L893.3,277.3 L894.7,285.3 L888.0,290.7 L887.3,304.0 L890.0,312.0 L892.0,316.0" fill="none" stroke="#3b3b3b" stroke-width="2.4" stroke-linejoin="round" />
<path d="M901.3,272.0 L893.3,277.3 L894.7,285.3 L888.0,290.7 L887.3,304.0 L890.0,312.0 L892.0,316.0" fill="none" stroke="#bfe8ff" stroke-width="1.2" stroke-linejoin="round" />
<path d="M888.7,316 C892,313 897,316 900,322 C903,327 904,331 901,333 C897,335 893,331 891,326 C889,322 887.5,318.5 888.7,316Z" fill="#bfe8ff" stroke="#3b3b3b" stroke-width="0.9"/>
<path d="M900.0,333.3 L906.7,344.0 L914.7,352.0 L920.0,357.3 L920.0,360.0 L919.3,369.3 L924.0,373.3 L933.3,374.0 L937.3,377.3 L944.0,374.7 L949.3,378.7 L952.0,386.7 L956.0,394.7 L960.0,398.7 L962.7,405.3 L968.0,412.0 L966.7,420.0 L969.3,428.0" fill="none" stroke="#3b3b3b" stroke-width="1" stroke-linejoin="round" />
<path d="M970.7,378.0 L980.0,386.7 L978.7,390.7 L976.0,396.0 L973.3,394.7 L972.0,386.7Z" fill="#bfe8ff" stroke="#3b3b3b" stroke-width="0.9" stroke-linejoin="round"/>
<path d="M974.7,398.7 L981.3,400.0 L982.7,410.7 L985.3,422.7 L989.3,434.7 L993.3,446.7 L999.0,462.0 L1008.0,482.0 L1016.0,500.0 L1022.5,518.0 L1030.0,540.0 L1035.5,555.0 L1033.0,556.0 L1027.0,541.0 L1019.5,520.0 L1013.0,502.0 L1005.0,484.0 L996.0,464.0 L990.0,448.0 L985.0,434.0 L980.0,418.0 L976.5,406.0Z" fill="#bfe8ff" stroke="#3b3b3b" stroke-width="0.9" stroke-linejoin="round"/>
<path d="M993.3,398.7 L996.0,400.0 L997.3,408.0 L994.7,418.7 L993.3,429.3 L995.5,441.0 L993.0,441.0 L990.7,430.0 L990.7,422.7 L992.7,410.7Z" fill="#bfe8ff" stroke="#3b3b3b" stroke-width="0.9" stroke-linejoin="round"/>
<path d="M1047.5,695.0 L1048.7,702.7 L1046.7,712.0 L1045.3,724.0 L1043.8,722.0 L1044.6,712.0 L1045.5,703.0 L1046.0,697.0Z" fill="#bfe8ff" stroke="#3b3b3b" stroke-width="0.9" stroke-linejoin="round"/>
<path d="M947.3,758.7 L952.7,762.7 L959.3,762.7 L966.0,766.7 L969.3,772.0 L966.0,776.0 L959.3,774.7 L952.7,770.7 L948.7,765.3Z" fill="#bfe8ff" stroke="#3b3b3b" stroke-width="1.3" stroke-linejoin="round"/>
<path d="M977.3,555.0 L984.0,556.7 L989.3,561.3 L993.3,569.3 L996.7,578.7 L996.7,588.0 L994.0,596.0 L989.3,601.3 L988.0,605.3 L985.3,606.7 L985.3,612.0 L978.7,610.7 L973.3,607.3 L966.7,602.7 L961.3,598.7 L954.7,596.0 L948.0,592.0 L946.0,588.0 L949.3,582.7 L956.0,576.0 L961.3,570.7 L966.7,565.3 L972.0,560.0Z" fill="#fff" stroke="none" stroke-width="1" />
<path d="M923.3,532.0 L930.0,528.7 L933.3,534.7 L932.0,541.3 L927.3,544.0 L924.7,538.7Z" fill="#fff" stroke="none" stroke-width="1" />
<path d="M922.0,470.7 L927.3,467.3 L932.7,472.0 L934.0,478.7 L937.3,485.3 L934.0,484.0 L928.7,481.3 L924.7,476.0Z" fill="#fff" stroke="none" stroke-width="1" />
<path d="M888.0,393.3 L892.0,391.3 L897.3,392.0 L900.7,397.3 L897.3,401.3 L893.3,403.3 L890.0,400.0Z" fill="#fff" stroke="none" stroke-width="1" />
<path d="M573.2,150.5 C574.5,149 577,150 578.5,151.5 C580.5,152.5 582,154.5 581,156.5 C579.5,158.5 576.5,158 575,156 C573.8,154.5 572.6,152.5 573.2,150.5Z" fill="#fff"/>
<path d="M577,152.5 L581,150.5 L585.5,149 L588,145 L590,138.5 M580.5,154.5 L585,152 L590,151.5 L596,148.5 L600.5,147 L605,141.5 M586,149 L591,147.5" fill="none" stroke="#fff" stroke-width="0.7" stroke-linecap="round" stroke-linejoin="round" opacity="0.9"/>
<path d="M318.0,115.7 L360.0,118.3 L396.0,120.7 L434.7,123.0 L468.7,124.4 L520.0,126.0 L566.7,126.7 L570.0,133.3 L573.3,140.0 L573.3,150.7 L577.3,157.3 L580.7,160.0 L590.0,160.7 L634.7,164.7 L662.7,166.7 L701.3,170.0 L734.0,172.7 L750.0,173.4 L788.0,176.7 L812.7,178.7 L834.7,179.7 L834.0,182.7 L837.3,190.7 L838.0,198.7 L842.0,202.7 L852.0,202.7 L853.3,193.3 L855.3,184.0 L853.3,173.3 L852.0,164.0 L853.0,160.0 L854.7,156.0 L857.0,154.5 L858.0,152.5 L861.3,151.3 L863.0,152.8 L865.0,151.8 L868.0,152.7 L870.0,154.8 L872.5,154.5 L874.0,156.5 L876.0,156.7 L878.5,158.8 L881.0,158.2 L883.0,160.2 L886.7,160.7 L889.0,162.4 L892.0,161.8 L894.5,163.5 L897.3,163.3 L900.0,164.2 L902.5,163.0 L905.3,163.3 L908.0,164.6 L912.0,164.7 L911.3,176.7 L910.7,186.0 L913.3,191.3 L914.7,199.3 L915.3,207.3 L918.7,220.7 L922.0,234.0 L925.3,250.0 L930.7,266.7 L936.0,282.7 L944.0,302.7 L950.7,320.0 L957.3,336.0 L965.3,350.7 L970.7,360.0 L981.3,377.3 L993.3,396.0 L1000.0,406.7 L1003.3,414.7 L997.3,418.7 L994.7,422.7 L996.0,434.7 L1000.0,450.7 L1005.3,466.7 L1012.7,480.0 L1020.7,500.0 L1028.7,522.7 L1036.7,544.0 L1042.7,557.3 L1049.3,572.0 L1053.3,582.7 L1056.0,594.7 L1057.3,606.7 L1057.3,621.3 L1055.3,633.3 L1052.7,653.3 L1050.7,673.3 L1049.3,690.7 L1046.7,694.7 L1044.0,705.3 L1041.3,713.3 L1036.0,721.3 L1032.0,730.7 L1028.7,742.7 L1030.0,753.3 L1027.3,758.7 L1023.3,766.7 L1018.0,772.7 L1011.3,773.3 L1003.3,774.0 L995.3,778.7 L987.3,780.7 L979.3,780.0 L972.7,780.0 L970.0,782.7 L960.7,784.7 L951.3,786.0 L946.0,781.3 L942.7,773.3 L944.7,765.3 L946.0,758.7 L943.3,750.7 L938.7,744.0 L936.7,737.3 L932.7,726.7 L924.7,721.3 L922.0,713.3 L920.0,712.0 L912.0,709.3 L904.0,705.3 L898.7,698.7 L891.3,698.7 L889.3,705.3 L886.0,701.3 L882.7,693.3 L879.3,685.3 L876.7,674.7 L875.3,662.7 L874.0,657.0 L871.0,650.7 L866.7,642.0 L860.0,637.3 L854.7,638.7 L845.3,641.3 L838.7,634.7 L834.7,622.7 L832.0,614.7 L830.7,606.7 L826.7,596.0 L820.0,584.0 L812.0,572.0 L808.0,560.0 L804.7,556.0 L800.7,549.3 L802.0,542.7 L795.3,536.0 L790.0,530.7 L788.7,521.3 L787.3,509.3 L786.0,501.3 L782.0,493.3 L776.7,486.7 L772.0,478.7 L775.3,466.7 L778.7,456.0 L777.3,448.0 L781.3,441.3 L785.3,430.7 L788.0,420.0 L790.7,412.0 L792.0,401.3 L793.3,390.7 L790.7,380.0 L793.3,369.3 L785.3,362.7 L784.0,354.7 L780.0,348.0 L777.3,342.0 L776.0,337.3 L758.7,335.3 L756.0,338.7 L752.0,333.3 L749.3,325.3 L742.7,320.0 L738.7,312.0 L729.3,305.3 L720.0,297.3 L720.0,288.0 L717.3,280.0 L705.3,270.7 L700.0,260.0 L696.7,257.3 L690.0,250.7 L680.7,244.0 L670.0,237.3 L662.7,230.7 L654.0,230.0 L646.0,229.3 L635.3,232.0 L626.0,236.0 L624.7,242.7 L628.7,246.7 L626.0,252.0 L616.7,249.3 L603.3,253.3 L590.0,258.7 L590.7,262.0 L581.3,266.0 L576.0,267.3 L573.3,262.7 L568.0,266.0 L565.3,268.7 L554.7,264.7 L546.7,268.7 L542.7,273.3 L534.0,273.3 L534.0,262.0 L530.7,252.7 L525.3,246.0 L514.7,239.3 L504.0,230.0 L493.3,222.0 L482.7,214.0 L469.3,206.0 L453.3,199.3 L440.0,194.0 L433.3,192.0 L413.3,188.0 L400.0,186.7 L380.0,186.7 L360.0,188.7 L340.0,192.0 L324.0,195.7 L328.7,192.0 L330.7,182.7 L334.7,178.7 L330.7,172.0 L334.0,164.0 L335.3,154.7 L328.7,146.0 L320.7,138.7 L314.0,130.0Z" fill="none" stroke="#3b3b3b" stroke-width="1.25" stroke-linejoin="round"/>
<path d="M326.0,196.0 L340.0,192.6 L360.0,189.3 L380.0,187.4 L400.0,187.4 L413.3,188.7 L433.3,192.8 L446.7,196.8 L460.0,202.0" fill="none" stroke="#3b3b3b" stroke-width="1.8" stroke-linejoin="round" />
<path d="M489.0,217.0 L493.0,220.5 L497.0,224.0 L501.0,227.0" fill="none" stroke="#3b3b3b" stroke-width="2.0" stroke-linejoin="round" stroke-linecap="round"/>
<path d="M505.0,231.0 L509.0,234.5" fill="none" stroke="#3b3b3b" stroke-width="2.0" stroke-linejoin="round" stroke-linecap="round"/>
<path d="M513.0,239.8 L516.0,241.2 L519.0,242.0" fill="none" stroke="#3b3b3b" stroke-width="2.2" stroke-linejoin="round" stroke-linecap="round"/>
<path d="M534.0,273.3 L528.7,274.7 L524.7,266.0 L524.0,256.7 L526.0,252.0" fill="none" stroke="#3b3b3b" stroke-width="1.8" stroke-linejoin="round" stroke-linecap="round"/>
<path d="M542.7,274.0 L549.3,273.5 L554.7,275.3 L553.3,280.0 L549.3,278.0Z" fill="#eab884" stroke="#3b3b3b" stroke-width="0.9" stroke-linejoin="round"/>
<path d="M553.3,280.0 L558.7,284.7 L568.0,282.0 L580.0,276.7 L593.3,267.3 L600.0,262.0" fill="none" stroke="#3b3b3b" stroke-width="1.7" stroke-linejoin="round" stroke-linecap="round"/>
<path d="M603.0,258.0 L612.0,255.5 L618.0,256.0" fill="none" stroke="#3b3b3b" stroke-width="1.3" stroke-linejoin="round" />
<path d="M838.7,634.7 L845.3,641.3 L854.7,638.7 L860.0,637.3 L853.0,641.5 L845.0,643.2 L839.0,639.0Z" fill="#de863c" stroke="#3b3b3b" stroke-width="0.9" stroke-linejoin="round"/>
<path d="M788.7,521.3 L790.0,530.7 L795.3,536.0 L802.0,542.7 L800.7,549.3 L804.7,556.0 L808.0,560.0 L812.0,572.0 L820.0,584.0" fill="none" stroke="#3b3b3b" stroke-width="1.6" stroke-linejoin="round" />
<path d="M826.7,596.0 L830.7,606.7 L832.0,614.7 L834.7,622.7 L838.7,634.7" fill="none" stroke="#3b3b3b" stroke-width="1.6" stroke-linejoin="round" />
<path d="M886.0,701.3 L889.3,705.3 L891.3,698.7 L895.0,700.0 L898.7,698.7 L901.0,703.0 L904.0,705.3 L908.0,706.0 L912.0,709.3 L916.0,709.5 L920.0,712.0 L924.0,716.0 L925.3,722.7 L930.7,726.7" fill="none" stroke="#3b3b3b" stroke-width="2.2" stroke-linejoin="round" />
<path d="M924.0,716.0 L928.0,718.0 L932.0,722.0 L935.0,728.0 L937.0,734.0 L941.0,738.0" fill="none" stroke="#3b3b3b" stroke-width="1.4" stroke-linejoin="round" />
<path d="M885.4,694.0 l-2.0,2.0 l0.2,0.9 M890.6,703.9 l-1.6,0.2 l-0.2,-0.4 M887.4,701.0 l-0.7,-1.3 l-0.5,0.4 M892.4,699.8 l0.2,2.0 l1.5,-0.6 M894.1,699.1 l-1.8,0.1 l-0.3,1.4 M898.2,698.4 l0.6,-1.2 l-2.0,-0.7 M908.5,708.0 l-0.8,-1.3 l1.1,-1.8 M903.7,706.0 l1.5,-0.9 l-1.4,-2.1 M908.1,707.6 l1.8,0.7 l2.2,-1.3 M920.4,713.5 l-2.0,0.9 l-1.0,1.6 M888.1,702.6 l2.2,-1.5 l-1.9,0.5 M926.1,721.5 l0.6,-2.0 l-1.7,-1.6 M925.8,717.9 l1.2,2.1 l-0.7,-2.2 M916.5,712.9 l-1.6,0.3 l0.5,1.9 M898.9,700.8 l0.8,0.2 l0.3,0.1 M927.4,722.9 l-0.2,1.0 l-0.1,-1.6 M887.2,700.5 l-0.9,-0.5 l1.2,-2.0 M887.4,701.7 l1.7,-1.3 l1.7,-0.8 M897.3,701.1 l-2.0,-0.1 l1.4,-1.0 M927.3,720.1 l-0.4,1.4 l-0.5,-1.3 M893.4,701.2 l-1.7,-1.2 l2.1,1.7 M924.3,718.8 l0.7,-0.4 l-1.9,-1.5 M925.9,717.1 l-1.0,-0.9 l1.7,-1.1 M901.8,700.8 l0.5,1.5 l0.2,-0.8 M889.0,700.6 l1.8,-0.0 l-0.9,-0.1 M899.9,701.8 l0.2,-1.2 l-0.4,1.4 M897.5,700.8 l-0.4,1.8 l-1.0,-1.7 M924.4,719.4 l2.2,-1.6 l-2.0,-0.8 M884.8,699.8 l0.2,-1.9 l-0.0,-0.1 M901.2,702.8 l1.8,1.4 l1.0,-0.7 M891.9,699.0 l1.9,-0.5 l1.6,0.5 M896.4,700.2 l1.5,-2.0 l1.0,-0.2 M914.8,710.8 l2.0,0.1 l-0.8,-1.1 M902.7,702.5 l0.4,1.6 l1.6,-1.6 M914.9,710.2 l1.8,1.2 l1.5,0.4 M913.6,709.4 l-1.1,1.8 l-1.5,1.1 M887.7,703.1 l-0.2,-1.3 l0.0,-0.7 M929.9,724.4 l-0.3,-1.5 l-1.1,-0.8 M902.6,701.2 l0.9,0.5 l1.5,1.7 M928.2,721.8 l-1.6,-0.9 l-0.5,-0.3 M912.6,707.8 l-1.9,0.5 l-1.5,2.1 M925.6,719.5 l1.1,-0.3 l2.1,-1.4 M927.1,719.5 l-0.5,1.7 l1.4,-0.7 M922.8,715.7 l-0.1,-0.8 l-1.3,-1.8 M922.4,717.6 l1.3,-1.9 l1.7,0.6 M901.4,702.2 l-2.0,2.1 l0.3,-1.2 M906.6,705.2 l-0.9,1.4 l-1.9,-0.4 M927.2,720.7 l0.2,-0.5 l-0.9,1.2 M886.2,702.0 l0.5,1.9 l-0.6,-0.4 M892.7,700.1 l-1.1,-1.3 l-2.1,1.0 M888.2,702.4 l-1.2,-0.2 l-0.9,0.9 M893.3,701.1 l-1.0,1.7 l-0.7,0.6 M895.1,701.2 l-2.0,-0.2 l-0.7,1.3 M922.1,716.0 l2.0,1.6 l1.2,-0.0 M927.7,724.0 l0.8,2.1 l2.0,-1.0 M914.1,709.0 l0.5,-0.5 l0.8,2.0 M891.8,701.4 l-0.7,-1.1 l-1.0,2.1 M885.7,697.5 l0.8,-1.8 l-1.7,0.0 M919.7,710.6 l-0.7,2.0 l0.5,-0.6 M888.7,701.9 l0.8,-0.1 l-0.9,-0.3 " fill="none" stroke="#3b3b3b" stroke-width="1.2" stroke-linecap="round" stroke-linejoin="round"/>
<path d="M869.8,650.5 l-1.2,-2.1 l-2.0,-0.8 M873.6,657.1 l1.7,-0.6 l-2.2,1.1 M868.9,647.2 l-1.3,-0.9 l1.9,-0.2 M872.5,650.5 l-1.5,-2.1 l-2.0,-2.0 M871.6,652.7 l-0.0,0.2 l1.4,-0.9 M875.4,660.5 l-1.2,-0.8 l-1.1,-0.4 M871.2,653.3 l1.4,-0.2 l0.9,-1.8 M866.7,643.3 l-1.6,-2.0 l0.4,-0.0 M875.7,663.5 l-0.0,2.0 l1.6,0.5 M874.1,660.0 l0.4,-0.6 l1.4,2.0 " fill="none" stroke="#3b3b3b" stroke-width="1.0" stroke-linecap="round" stroke-linejoin="round"/>
<path d="M914.8,195.8 l0.7,1.7 l1.8,-1.4 M915.3,206.6 l2.0,0.6 l-0.9,-0.8 M915.7,206.9 l0.8,1.4 l-1.0,-0.8 M912.6,192.9 l-0.9,-1.3 l1.7,1.1 M914.8,196.4 l-0.8,-0.6 l0.7,0.2 M914.0,199.8 l1.6,1.1 l0.3,-1.7 " fill="none" stroke="#3b3b3b" stroke-width="1.0" stroke-linecap="round" stroke-linejoin="round"/>
<path d="M1044.0,740.0 L1042.0,749.3 L1036.7,758.7 L1032.7,766.7 L1027.3,776.0 L1023.3,782.7 L1016.7,790.7 L1010.0,798.7 L1003.3,804.0" fill="none" stroke="#3b3b3b" stroke-width="2.8" stroke-linejoin="round" stroke-linecap="round"/>
<path d="M1044.0,740.0 L1042.0,749.3 L1036.7,758.7 L1032.7,766.7 L1027.3,776.0 L1023.3,782.7 L1016.7,790.7 L1010.0,798.7 L1003.3,804.0" fill="none" stroke="#df6c3c" stroke-width="1.0" stroke-linejoin="round" stroke-linecap="round"/>
<path d="M999.0,807.0 L995.3,809.3 L990.0,813.3 L985.0,815.5" fill="none" stroke="#3b3b3b" stroke-width="2.8" stroke-linejoin="round" stroke-linecap="round"/>
<path d="M999.0,807.0 L995.3,809.3 L990.0,813.3 L985.0,815.5" fill="none" stroke="#e8866a" stroke-width="0.9" stroke-linejoin="round" stroke-linecap="round"/>
<path d="M980.0,818.0 L976.0,820.0" fill="none" stroke="#3b3b3b" stroke-width="2.8" stroke-linejoin="round" stroke-linecap="round"/>
<path d="M980.0,818.0 L976.0,820.0" fill="none" stroke="#e8866a" stroke-width="0.9" stroke-linejoin="round" stroke-linecap="round"/>
<path d="M968.0,822.0 L958.0,826.0 L950.0,829.5" fill="none" stroke="#3b3b3b" stroke-width="2.8" stroke-linejoin="round" stroke-linecap="round"/>
<path d="M968.0,822.0 L958.0,826.0 L950.0,829.5" fill="none" stroke="#e8866a" stroke-width="0.9" stroke-linejoin="round" stroke-linecap="round"/>
<path d="M948.0,832.0 L941.0,834.5" fill="none" stroke="#3b3b3b" stroke-width="2.8" stroke-linejoin="round" stroke-linecap="round"/>
<path d="M948.0,832.0 L941.0,834.5" fill="none" stroke="#e8866a" stroke-width="0.9" stroke-linejoin="round" stroke-linecap="round"/>
<path d="M936.0,834.5 L930.0,837.0" fill="none" stroke="#3b3b3b" stroke-width="2.8" stroke-linejoin="round" stroke-linecap="round"/>
<path d="M936.0,834.5 L930.0,837.0" fill="none" stroke="#e8866a" stroke-width="0.9" stroke-linejoin="round" stroke-linecap="round"/>
<path d="M893.0,846.8 L888.0,848.0 L879.0,850.5" fill="none" stroke="#3b3b3b" stroke-width="2.8" stroke-linejoin="round" stroke-linecap="round"/>
<path d="M893.0,846.8 L888.0,848.0 L879.0,850.5" fill="none" stroke="#e8866a" stroke-width="0.9" stroke-linejoin="round" stroke-linecap="round"/>
<path d="M840.5,846.0 L844.0,845.5 L845.5,848.0 L843.0,850.5 L840.0,849.5Z" fill="#bfe8ff" stroke="#3b3b3b" stroke-width="1.2" stroke-linejoin="round"/>
<ellipse cx="932.0" cy="833.0" rx="1.3" ry="2.6" transform="rotate(-25 932.0 833.0)" fill="#e8866a" stroke="#3b3b3b" stroke-width="1.0"/><ellipse cx="928.5" cy="835.5" rx="1.4" ry="2.9" transform="rotate(-20 928.5 835.5)" fill="#e8866a" stroke="#3b3b3b" stroke-width="1.0"/><ellipse cx="925.0" cy="832.5" rx="1.1" ry="2.4" transform="rotate(-30 925.0 832.5)" fill="#e8866a" stroke="#3b3b3b" stroke-width="1.0"/><ellipse cx="924.0" cy="838.0" rx="1.5" ry="2.7" transform="rotate(-15 924.0 838.0)" fill="#e8866a" stroke="#3b3b3b" stroke-width="1.0"/><ellipse cx="920.5" cy="835.0" rx="1.2" ry="3.2" transform="rotate(-25 920.5 835.0)" fill="#e8866a" stroke="#3b3b3b" stroke-width="1.0"/><ellipse cx="918.0" cy="840.5" rx="1.7" ry="2.4" transform="rotate(-20 918.0 840.5)" fill="#e8866a" stroke="#3b3b3b" stroke-width="1.0"/><ellipse cx="915.0" cy="836.5" rx="1.3" ry="3.4" transform="rotate(-28 915.0 836.5)" fill="#e8866a" stroke="#3b3b3b" stroke-width="1.0"/><ellipse cx="912.0" cy="841.5" rx="1.7" ry="2.6" transform="rotate(-20 912.0 841.5)" fill="#e8866a" stroke="#3b3b3b" stroke-width="1.0"/><ellipse cx="909.0" cy="838.5" rx="1.2" ry="2.9" transform="rotate(-30 909.0 838.5)" fill="#e8866a" stroke="#3b3b3b" stroke-width="1.0"/><ellipse cx="906.5" cy="843.2" rx="1.8" ry="2.1" transform="rotate(-35 906.5 843.2)" fill="#e8866a" stroke="#3b3b3b" stroke-width="1.0"/><ellipse cx="903.0" cy="841.0" rx="1.3" ry="2.4" transform="rotate(-40 903.0 841.0)" fill="#e8866a" stroke="#3b3b3b" stroke-width="1.0"/><ellipse cx="900.0" cy="844.8" rx="2.0" ry="1.6" transform="rotate(-60 900.0 844.8)" fill="#e8866a" stroke="#3b3b3b" stroke-width="1.0"/><ellipse cx="896.5" cy="843.5" rx="1.3" ry="1.9" transform="rotate(-50 896.5 843.5)" fill="#e8866a" stroke="#3b3b3b" stroke-width="1.0"/><ellipse cx="895.0" cy="846.6" rx="2.4" ry="1.1" transform="rotate(0 895.0 846.6)" fill="#e8866a" stroke="#3b3b3b" stroke-width="1.0"/>
<g fill="#3b3b3b"><circle cx="972.7" cy="786.7" r="0.9"/><circle cx="982.0" cy="784.0" r="0.9"/><circle cx="987.3" cy="788.0" r="0.9"/><circle cx="984.7" cy="795.3" r="0.9"/><circle cx="991.3" cy="792.7" r="0.9"/><circle cx="996.7" cy="788.0" r="0.9"/><circle cx="1002.0" cy="787.3" r="0.9"/><circle cx="1004.7" cy="782.7" r="0.9"/><circle cx="988.0" cy="798.7" r="0.9"/><circle cx="978.0" cy="806.7" r="0.9"/><circle cx="958.7" cy="795.3" r="0.9"/><circle cx="991.3" cy="810.7" r="0.9"/><circle cx="1009.0" cy="790.0" r="0.9"/><circle cx="1013.0" cy="786.0" r="0.9"/><circle cx="1018.0" cy="781.0" r="0.9"/><circle cx="1020.0" cy="777.0" r="0.9"/><circle cx="1014.0" cy="778.0" r="0.9"/><circle cx="1008.0" cy="784.0" r="0.9"/><circle cx="857.0" cy="846.0" r="0.9"/><circle cx="860.0" cy="848.0" r="0.9"/><circle cx="863.0" cy="846.5" r="0.9"/><circle cx="866.0" cy="848.0" r="0.9"/><circle cx="869.0" cy="846.0" r="0.9"/><circle cx="873.0" cy="848.5" r="0.9"/><circle cx="760.0" cy="840.5" r="0.9"/><circle cx="763.0" cy="839.5" r="0.9"/><circle cx="766.0" cy="839.0" r="0.9"/><circle cx="769.0" cy="838.5" r="0.9"/><circle cx="772.0" cy="838.0" r="0.9"/><circle cx="896.0" cy="838.0" r="0.9"/><circle cx="902.0" cy="836.0" r="0.9"/><circle cx="907.0" cy="833.0" r="0.9"/><circle cx="912.0" cy="831.0" r="0.9"/><circle cx="917.0" cy="829.0" r="0.9"/><circle cx="922.0" cy="827.0" r="0.9"/><circle cx="926.0" cy="830.0" r="0.9"/><circle cx="930.0" cy="828.0" r="0.9"/><circle cx="900.0" cy="841.0" r="0.9"/><circle cx="908.0" cy="838.0" r="0.9"/></g>
<path d="M1048.7,694.7 L1048.7,702.7 L1046.7,712.0 L1045.3,724.0" fill="none" stroke="#3b3b3b" stroke-width="1.5" stroke-linejoin="round" />
<path d="M1054.5,592.0 L1057.5,606.0 L1057.5,621.0 L1056.0,633.0" fill="none" stroke="#3b3b3b" stroke-width="2" stroke-linejoin="round" />
<path d="M995.3,440.0 L1003.3,460.0 L1012.7,480.0 L1020.7,500.0 L1028.7,522.7 L1036.7,544.0 L1042.7,557.3" fill="none" stroke="#3b3b3b" stroke-width="1.5" stroke-linejoin="round" />
<path d="M970.7,378.0 L981.3,377.3 L993.3,396.0 L1000.0,406.7 L1003.3,414.7 L997.3,418.7 L994.7,422.7 L996.0,434.7" fill="none" stroke="#3b3b3b" stroke-width="1.2" stroke-linejoin="round" />
<path d="M899.7,174.2 l1.6,-1.5 l-0.0,-0.3 M906.5,173.5 l-2.4,-2.8 l2.0,-0.4 M907.9,164.0 l-0.3,1.3 l-1.6,2.7 M909.7,164.4 l-2.8,0.2 l2.6,-0.7 M900.8,169.1 l-2.8,-1.7 l-0.4,-0.0 M901.0,166.8 l-1.7,-0.2 l-1.3,-2.9 M908.9,170.7 l0.9,-1.9 l3.0,2.2 M899.6,168.0 l1.3,1.3 l2.6,-0.5 M908.8,172.0 l-1.2,0.5 l2.3,2.1 M904.6,171.1 l-2.8,-1.5 l1.8,-0.5 M900.2,170.6 l1.2,1.0 l-0.8,-0.4 M904.6,173.3 l0.1,-0.6 l-0.1,-2.8 M898.6,172.4 l2.9,0.6 l-0.6,-2.0 M904.5,175.8 l1.6,0.2 l2.2,-1.6 " fill="none" stroke="#3b3b3b" stroke-width="1.3" stroke-linecap="round" stroke-linejoin="round"/>
<path d="M911.2,189.4 l-2.7,-2.5 l2.0,1.4 M905.7,181.7 l0.6,0.6 l0.5,-2.0 M901.2,182.7 l1.3,3.0 l2.7,0.3 M901.5,181.2 l-2.8,-2.8 l-0.2,-1.1 M900.2,188.7 l0.2,0.4 l-1.6,-2.9 M899.2,179.6 l0.1,3.0 l1.0,-1.9 M910.0,187.6 l1.4,2.4 l1.6,1.7 M899.7,189.8 l2.8,-2.0 l1.5,1.3 M901.8,184.4 l-0.1,2.5 l0.0,2.0 M899.7,188.6 l2.4,-0.2 l0.4,2.5 M906.8,183.8 l-1.7,-1.1 l1.2,-2.0 M910.3,181.2 l2.5,-1.1 l2.7,1.2 M902.6,184.2 l0.9,0.5 l-1.1,-1.8 M902.7,189.2 l0.7,-2.5 l1.9,1.4 M910.2,180.3 l1.5,-2.6 l0.9,-1.4 M897.3,188.5 l-2.4,0.1 l2.1,-1.5 M897.0,188.6 l-0.5,1.3 l-2.8,-0.8 M896.3,186.1 l-2.5,2.7 l-2.8,1.4 " fill="none" stroke="#3b3b3b" stroke-width="1.3" stroke-linecap="round" stroke-linejoin="round"/>
<path d="M898.0,195.4 l-0.8,0.6 l0.8,-2.6 M893.3,198.4 l-1.4,-1.6 l3.0,-0.2 M910.6,194.8 l0.8,-2.1 l0.8,2.2 M904.0,197.4 l1.0,-2.6 l1.5,0.5 M899.3,190.3 l2.2,-0.2 l1.3,2.3 M908.0,199.2 l-0.6,1.8 l-0.3,2.6 M911.5,191.0 l-2.2,-1.7 l2.8,-0.4 M906.2,193.0 l0.0,-0.7 l-0.9,0.5 M905.3,199.0 l1.1,2.6 l2.1,2.9 M907.1,191.6 l2.2,2.8 l2.4,0.4 M908.0,192.1 l2.0,0.4 l-1.3,-2.6 M910.9,199.9 l-2.5,1.8 l-0.5,-2.1 M899.2,197.7 l2.2,-2.7 l0.7,-2.7 M908.1,193.3 l2.3,2.9 l0.0,3.0 M899.5,190.8 l0.6,-2.8 l-1.8,-0.6 M905.8,191.6 l-2.7,2.2 l-1.1,2.8 M911.8,193.8 l-0.2,0.1 l0.9,0.6 M904.7,196.2 l2.6,0.0 l-0.4,1.3 M898.0,193.0 l2.9,0.1 l0.3,-2.9 M901.7,195.8 l-2.9,0.7 l0.8,-2.6 M906.2,194.7 l1.1,-0.9 l1.2,1.4 M893.5,190.6 l1.1,2.8 l-1.5,-0.3 " fill="none" stroke="#3b3b3b" stroke-width="1.3" stroke-linecap="round" stroke-linejoin="round"/>
<path d="M917.3,228.7 L918.5,236.0 L920.0,243.3 L922.0,250.0 L925.0,258.0 L927.0,262.0" fill="none" stroke="#3b3b3b" stroke-width="1.6" stroke-linejoin="round" />
<path d="M750.4,327.8 l-0.6,-2.1 l-2.6,-0.6 M757.2,339.6 l1.6,-1.7 l0.2,-1.3 M749.7,327.8 l-1.7,2.6 l2.0,1.8 M756.0,329.3 l-1.1,0.8 l1.4,2.1 M756.8,327.5 l0.6,1.0 l0.0,-1.9 M752.7,327.5 l2.6,2.2 l0.3,-1.2 M757.1,335.7 l2.3,2.1 l0.1,-0.5 M754.0,333.3 l-2.0,-1.2 l1.9,-2.7 M748.5,336.6 l-1.3,0.2 l-0.2,-0.9 M758.0,329.3 l-0.5,-1.8 l0.8,-1.3 " fill="none" stroke="#3b3b3b" stroke-width="1.2" stroke-linecap="round" stroke-linejoin="round"/>
<path d="M780.4,348.4 l1.8,2.7 l1.4,2.5 M776.2,344.5 l2.7,0.9 l2.4,-2.3 M779.3,341.5 l0.3,0.4 l-2.9,-1.7 M778.0,350.8 l1.6,-2.0 l1.8,-2.2 M780.3,339.8 l-3.0,2.2 l-1.7,-1.7 M782.9,350.2 l-1.3,2.8 l0.2,1.1 " fill="none" stroke="#3b3b3b" stroke-width="1.2" stroke-linecap="round" stroke-linejoin="round"/>
<path d="M793.5,386.7 l-0.1,-1.4 l-3.0,1.0 M789.6,384.8 l-0.8,1.6 l-1.4,1.8 M792.8,374.4 l0.2,1.1 l-1.8,0.3 M793.7,370.0 l1.8,1.1 l2.1,-1.0 M785.1,386.0 l1.8,-0.3 l-2.4,-1.8 M791.6,370.7 l2.7,0.5 l-1.8,0.9 M788.3,390.0 l2.5,0.1 l0.9,1.2 M793.7,391.3 l-2.8,-0.8 l0.6,-1.2 M791.1,364.7 l2.3,0.2 l-2.3,1.0 M787.7,367.9 l-0.1,-2.2 l-1.7,2.2 M792.4,362.4 l1.7,-2.9 l-1.0,2.4 M791.4,371.2 l-0.7,-0.7 l-2.2,3.0 M784.6,374.7 l1.5,-0.6 l2.9,-1.5 M795.8,388.8 l1.0,2.3 l-0.3,2.0 M793.6,377.5 l-0.2,1.2 l-0.5,-2.5 M793.0,370.0 l-0.1,1.7 l-2.0,-2.9 M785.5,379.7 l-0.8,-1.5 l-0.3,2.6 M787.1,374.3 l2.3,0.7 l-1.4,-0.2 M789.7,366.3 l-0.7,-1.2 l1.8,-1.1 M791.9,391.1 l2.5,-0.7 l0.6,-1.1 M788.8,376.6 l1.8,2.6 l-1.3,-3.0 M789.4,363.7 l-2.8,1.6 l-2.3,1.3 M788.3,390.2 l2.1,-2.6 l-1.8,2.7 M791.4,374.7 l1.7,1.9 l-0.0,-0.2 M785.2,372.9 l-2.1,0.8 l0.6,-2.1 M791.5,364.9 l-2.4,0.9 l-0.2,2.4 " fill="none" stroke="#3b3b3b" stroke-width="1.3" stroke-linecap="round" stroke-linejoin="round"/>
<path d="M788.3,393.8 l0.9,-2.6 l0.2,-0.8 M786.4,398.1 l-2.8,-0.4 l-2.6,-2.5 M789.0,401.9 l-2.3,-1.7 l0.8,2.7 M790.0,396.8 l2.9,-2.7 l2.2,-1.3 M787.0,393.4 l-1.1,1.9 l-1.9,0.5 M790.5,396.5 l0.3,-2.6 l-2.6,-1.8 " fill="none" stroke="#3b3b3b" stroke-width="1.2" stroke-linecap="round" stroke-linejoin="round"/>
<path d="M631.3,232.4 l-2.2,1.2 l-2.5,-1.5 M646.0,230.5 l0.9,-0.2 l-0.3,-0.0 M630.7,232.1 l-2.5,-1.6 l-2.9,-1.4 M634.7,232.3 l-0.7,-2.3 l-1.4,2.9 M628.2,231.6 l-0.7,1.0 l-1.0,1.1 M636.5,231.6 l2.4,0.5 l-2.1,-2.6 " fill="none" stroke="#3b3b3b" stroke-width="1.0" stroke-linecap="round" stroke-linejoin="round"/>
<path d="M625.7,242.5 l-2.2,2.2 l-3.0,0.0 M629.2,239.0 l0.3,0.7 l-2.8,-0.7 M627.6,243.4 l1.4,-2.1 l-1.6,-2.3 M626.1,249.1 l0.5,1.6 l-0.7,1.5 M622.8,241.5 l1.0,1.4 l-0.5,-2.5 M624.1,240.5 l-1.3,1.9 l-1.8,2.3 M629.0,238.7 l-0.7,-0.0 l-2.9,-0.5 M629.3,239.3 l0.6,-2.3 l0.5,2.4 " fill="none" stroke="#3b3b3b" stroke-width="1.2" stroke-linecap="round" stroke-linejoin="round"/>
<path d="M957.7,765.4 l0.5,-1.8 l1.9,1.9 M959.7,759.5 l0.1,-1.0 l-1.5,2.7 M967.9,757.0 l2.2,0.6 l-0.7,-1.3 M960.2,766.1 l1.1,1.0 l-2.2,1.6 M967.6,777.3 l0.7,-2.7 l-3.0,-2.2 M966.6,762.7 l-0.8,2.4 l-1.1,0.3 M954.5,757.4 l0.5,2.1 l-2.1,-1.7 M953.9,756.8 l-0.0,1.9 l0.9,0.2 M964.5,759.3 l0.4,-0.8 l0.6,-2.3 M962.6,758.1 l-2.0,1.8 l2.7,-0.4 M953.9,761.4 l-1.4,0.7 l-1.9,-2.3 M954.9,759.6 l0.9,1.9 l1.7,-0.1 M952.3,765.6 l-3.0,1.3 l-1.0,-1.1 M945.9,765.9 l0.5,-0.7 l2.2,1.0 M949.8,767.6 l2.5,0.1 l0.6,-2.6 M955.7,766.2 l-0.6,-0.5 l0.5,0.2 M955.8,759.6 l-0.4,2.8 l-0.5,-2.8 M944.1,767.8 l-2.7,-2.4 l-2.3,-0.3 M967.8,766.7 l-0.2,-0.4 l0.0,-0.3 M961.4,775.8 l1.2,-0.5 l0.9,2.5 M947.7,761.2 l0.7,1.1 l0.9,0.5 M963.9,766.5 l1.8,2.8 l-0.4,2.2 M961.2,775.6 l-2.7,2.5 l1.6,2.8 M967.6,762.3 l1.0,-2.2 l0.6,2.5 M948.6,763.7 l-2.5,-1.8 l-1.8,-2.4 M968.0,775.5 l-0.2,1.5 l1.2,0.1 M954.2,770.6 l0.3,-1.4 l-0.8,0.8 M959.1,760.6 l0.7,2.2 l2.2,0.9 M945.7,765.3 l-2.5,-2.7 l-1.5,-0.3 M962.2,769.8 l-1.3,1.2 l0.0,0.0 " fill="none" stroke="#3b3b3b" stroke-width="1.2" stroke-linecap="round" stroke-linejoin="round"/>
<path d="M922.0,713.3 L924.7,721.3 L928.0,722.5 L932.7,726.7 L934.0,731.0 L936.7,737.3 L938.7,744.0 L941.0,746.0 L943.3,750.7 L946.0,758.7" fill="none" stroke="#3b3b3b" stroke-width="1.9" stroke-linejoin="round" />
<path d="M926.0,718.0 L930.0,717.5 L933.0,721.0 L931.0,724.0" fill="none" stroke="#3b3b3b" stroke-width="1.1" stroke-linejoin="round" />
<path d="M934.0,730.0 L938.0,729.5 L939.5,733.0" fill="none" stroke="#3b3b3b" stroke-width="1.1" stroke-linejoin="round" />
<path d="M937.0,739.0 L941.0,739.5" fill="none" stroke="#3b3b3b" stroke-width="1.1" stroke-linejoin="round" />
<path d="M996.7,779.9 l1.0,-2.1 l-2.9,-0.8 M986.3,780.9 l1.1,0.6 l0.3,1.0 M979.6,778.6 l-2.0,2.4 l-2.6,1.9 M975.9,780.1 l-1.0,-0.6 l2.1,-2.9 M975.2,781.5 l0.1,-2.5 l2.9,2.7 M977.9,778.5 l-2.2,-1.1 l0.7,-2.0 M1008.2,776.3 l-2.0,1.9 l-0.6,-0.5 M1003.0,778.9 l-0.7,-2.8 l1.4,2.8 M1022.8,780.0 l-0.9,-0.8 l1.1,1.0 M977.9,777.4 l-0.8,0.1 l1.9,0.0 M973.5,780.9 l-0.4,0.1 l-1.7,-0.4 M992.2,780.6 l-2.4,0.3 l-1.9,1.2 M973.9,777.7 l-0.9,0.8 l-2.7,-0.2 M982.9,777.7 l-0.1,2.8 l-0.1,2.7 M980.7,781.5 l-0.8,-1.9 l1.5,2.5 M972.3,777.6 l1.6,-0.9 l-1.6,-2.9 M974.1,779.7 l2.9,3.0 l0.0,-2.9 M988.8,780.7 l2.0,0.8 l-1.6,0.2 M996.8,779.8 l-1.4,2.7 l2.4,-2.0 M987.1,781.2 l-1.3,2.7 l0.1,1.2 M1008.6,777.3 l-1.3,-1.5 l1.1,1.2 M978.9,781.3 l-0.5,-1.6 l-0.4,2.9 M1001.1,779.7 l2.5,2.8 l1.6,-0.5 M1002.6,781.4 l1.7,0.5 l-0.9,-0.8 M1010.3,779.4 l-2.9,1.3 l2.4,1.8 M1018.7,781.5 l0.2,1.7 l-0.7,-2.4 " fill="none" stroke="#3b3b3b" stroke-width="1.2" stroke-linecap="round" stroke-linejoin="round"/>
<path d="M1018.1,774.3 l1.1,2.1 l-1.9,-1.6 M1016.4,766.1 l1.4,-2.2 l0.2,-1.7 M1018.7,769.8 l2.0,0.7 l-2.9,-1.3 M1016.3,777.7 l1.9,1.8 l2.0,1.5 M1029.2,776.3 l-1.5,2.1 l-0.1,1.5 M1023.0,769.7 l-0.8,-0.4 l-1.1,-2.3 M1027.1,776.4 l2.9,1.1 l0.3,1.5 M1016.2,774.2 l-0.3,-1.9 l-1.8,0.1 M1018.1,770.3 l0.6,-0.6 l-2.2,-0.1 M1017.8,766.2 l-1.8,-0.8 l-2.6,0.9 M1029.3,769.0 l1.3,2.6 l-2.7,-2.1 M1026.9,777.1 l0.8,-2.0 l-0.5,2.2 " fill="none" stroke="#3b3b3b" stroke-width="1.0" stroke-linecap="round" stroke-linejoin="round"/>
<path d="M829.5,603.0 l0.9,2.6 l-1.4,-1.5 M838.3,602.6 l-1.2,1.1 l-0.6,1.7 M829.7,598.2 l2.4,-0.9 l-1.4,1.8 M836.8,597.5 l0.3,1.0 l-2.0,0.9 M829.7,599.4 l-2.5,-1.8 l2.9,-0.6 M841.9,600.4 l0.6,2.2 l1.1,-2.3 M836.2,602.3 l-1.9,-2.4 l2.2,0.1 M830.7,600.5 l-1.7,1.8 l0.0,-2.4 " fill="none" stroke="#3b3b3b" stroke-width="1.1" stroke-linecap="round" stroke-linejoin="round"/>
<path d="M867.2,628.3 l1.4,-2.1 l2.9,-2.9 M865.1,643.0 l2.1,3.0 l-1.6,-1.0 M861.0,634.2 l-1.4,-1.6 l2.1,2.2 M863.1,632.9 l2.5,0.1 l-1.6,-0.3 M854.1,629.7 l0.4,-0.8 l0.4,2.6 M859.5,636.9 l2.2,3.0 l-0.1,2.7 M844.5,631.1 l-2.0,2.6 l1.1,1.3 M850.9,638.9 l2.3,-2.4 l-2.3,-2.7 M855.2,646.5 l0.3,-0.6 l0.0,-1.9 M866.8,635.8 l-1.6,-1.1 l1.9,-1.1 M865.7,635.4 l-0.4,-2.6 l2.4,1.8 M855.4,630.5 l-0.0,-0.7 l2.0,2.6 M861.8,634.3 l-2.8,2.4 l2.7,-2.0 M856.0,638.6 l2.9,-2.7 l-2.6,2.1 " fill="none" stroke="#3b3b3b" stroke-width="1.1" stroke-linecap="round" stroke-linejoin="round"/>
<path d="M875.4,649.6 l-0.5,-0.3 l-0.5,0.9 M875.0,652.7 l-2.9,-1.2 l-1.0,-2.1 M877.0,646.2 l1.7,2.7 l-1.5,2.4 M877.2,653.3 l-2.8,-0.3 l0.8,-1.2 M874.9,646.2 l-1.5,1.7 l-0.9,-0.5 M876.6,659.0 l-1.2,-2.7 l2.8,2.0 " fill="none" stroke="#3b3b3b" stroke-width="1.0" stroke-linecap="round" stroke-linejoin="round"/>
<path d="M797.4,515.7 l2.8,-1.3 l1.6,1.2 M799.9,500.4 l-2.8,-0.7 l1.5,-1.5 M797.0,505.0 l2.1,2.7 l-0.6,3.0 M789.1,515.9 l2.3,-2.1 l1.2,0.4 M805.2,502.6 l0.2,2.3 l0.8,-1.1 M789.5,518.7 l-0.2,3.0 l-2.2,1.9 M802.6,518.2 l-2.9,-0.8 l-2.7,1.5 M794.4,519.1 l-0.8,1.6 l2.2,-1.6 M798.0,519.1 l0.2,-0.8 l-1.4,1.7 M791.5,511.3 l0.3,0.3 l-2.2,1.0 " fill="none" stroke="#3b3b3b" stroke-width="1.0" stroke-linecap="round" stroke-linejoin="round"/>
<path d="M792.2,530.6 l-1.0,-1.8 l-0.1,-0.0 M795.8,527.3 l-1.4,-1.5 l1.2,-1.1 M798.1,532.6 l2.2,2.7 l-1.6,-1.6 M798.8,529.2 l-1.8,1.1 l2.2,2.0 M792.6,524.8 l-3.0,2.9 l-1.7,1.4 M796.5,529.5 l0.2,2.0 l0.6,-1.2 M791.4,527.6 l2.5,-2.1 l1.1,0.8 M791.9,523.3 l1.1,-0.4 l-0.6,-0.1 " fill="none" stroke="#3b3b3b" stroke-width="1.0" stroke-linecap="round" stroke-linejoin="round"/>
<g clip-path="url(#flclip)">
<path d="M333.3,164.7 L340.0,169.3 L350.7,172.7 L360.0,172.0 L369.3,166.7 L380.0,160.0 L393.3,154.7 L413.3,152.7 L433.3,152.0 L446.7,151.3 L460.0,157.3 L473.3,156.7 L486.7,151.3 L506.7,151.3 L526.7,153.3 L540.0,152.7 L553.3,158.7 L566.7,166.7 L580.0,168.7 L590.0,170.7 L603.3,178.7 L623.3,185.3 L643.3,186.7 L663.3,186.7 L683.3,190.7 L696.7,193.3 L716.7,194.0 L730.0,198.7 L740.0,202.7 L750.7,205.3 L760.0,204.0 L773.3,210.7 L784.0,214.7 L800.0,215.3 L813.3,214.7 L826.7,216.7 L840.0,214.0 L853.3,211.3 L873.3,209.3 L886.7,207.3" fill="none" stroke="#e9853a" stroke-width="1.5" stroke-linejoin="round" />
<path d="M744.0,173.3 L753.3,182.7 L766.7,193.3 L780.0,208.0 L790.7,225.3 L798.7,245.3 L802.7,253.3 L806.7,266.7 L814.7,280.0 L825.3,294.7 L833.3,309.3 L837.3,322.7 L838.7,340.0 L844.0,353.3 L848.0,366.7 L848.0,380.0 L842.7,393.3 L836.0,400.0 L832.0,410.7 L826.7,422.7 L822.7,436.0 L822.0,440.0 L816.7,449.3 L819.3,454.7 L822.7,466.7 L823.3,480.0 L819.3,493.3 L812.7,504.0 L810.0,520.0 L811.3,533.3 L811.3,546.7 L812.7,553.3 L820.0,564.0 L833.3,567.3 L846.7,570.0 L854.7,580.0 L858.7,592.0 L865.3,600.0 L873.3,609.3 L877.3,620.0 L878.7,633.3 L881.3,646.7 L882.7,653.3 L884.0,671.3 L906.7,672.0 L933.3,671.3 L970.7,670.0 L986.7,672.0 L1013.3,673.3 L1026.7,676.0 L1045.3,677.3" fill="none" stroke="#e9853a" stroke-width="1.5" stroke-linejoin="round" />
<path d="M816.7,449.3 L812.0,457.3 L811.3,470.7 L800.7,473.3 L792.7,478.7 L789.3,490.7 L788.7,504.0 L792.7,512.0 L806.0,512.7 L812.0,506.0" fill="none" stroke="#e9853a" stroke-width="1.5" stroke-linejoin="round" />
<path d="M811.3,471.3 L824.7,468.7 L843.3,464.0 L856.7,460.0 L863.3,453.3 L876.7,448.0 L890.7,442.7 L902.7,430.7 L910.7,416.0 L916.0,408.0 L920.0,394.7 L922.7,380.0 L929.3,360.0 L930.7,354.7 L938.7,345.3 L948.0,338.7" fill="none" stroke="#e9853a" stroke-width="1.5" stroke-linejoin="round" />
<path d="M890.0,160.0 L890.7,166.7 L892.0,193.3 L893.3,220.0 L900.0,232.0 L906.7,240.0 L914.7,253.3 L920.0,269.3 L928.0,284.0 L936.0,297.3 L941.3,310.7 L945.3,325.3 L948.0,338.7 L953.3,349.3 L957.3,358.0 L961.3,362.0 L965.3,373.3 L969.3,393.3 L973.3,413.3 L981.3,433.3 L983.3,440.0 L986.0,456.0 L994.0,469.3 L1000.7,482.7 L1004.7,500.0 L1010.0,514.7 L1016.7,533.3 L1018.7,546.7 L1021.3,558.7 L1032.0,564.0 L1037.3,573.3 L1045.3,586.7 L1049.3,600.0 L1052.0,613.3 L1052.0,626.7 L1052.0,630.7 L1048.0,646.7 L1046.7,673.3 L1044.0,690.0 L1042.7,700.0" fill="none" stroke="#e9853a" stroke-width="1.5" stroke-linejoin="round" />
<path d="M848.0,380.0 L858.0,392.0 L872.0,402.0 L888.0,412.0 L902.0,422.0 L906.0,432.0" fill="none" stroke="#e9853a" stroke-width="1.1" stroke-linejoin="round" opacity="0.85"/>
<path d="M1012.0,546.0 L1020.0,560.0 L1030.0,572.0 L1040.0,590.0 L1046.0,610.0 L1048.0,630.0 L1040.0,652.0 L1030.0,668.0 L1024.0,678.7 L1026.0,689.3 L1025.3,700.0 L1022.0,712.0" fill="none" stroke="#e9853a" stroke-width="1.0" stroke-linejoin="round" opacity="0.8"/>
<ellipse cx="888" cy="208" rx="9" ry="15" fill="none" stroke="#e9853a" stroke-width="1.3"/>
</g>
<path d="M55.0,155.0 L75.0,163.3 L96.7,176.7 L116.7,180.0 L141.7,174.2 L166.7,170.0 L183.3,167.5 L208.3,171.7 L226.7,172.7 L246.7,166.7 L266.7,153.3 L274.7,149.3 L285.3,151.3 L306.7,154.7 L320.0,161.3 L333.3,164.7" fill="none" stroke="#f3c5ae" stroke-width="0.9" stroke-linejoin="round" />
<path d="M131.7,130.0 L121.7,146.7 L110.0,166.7 L105.0,180.0 L91.7,196.7 L83.3,208.3 L70.0,215.0 L55.0,208.3" fill="none" stroke="#f3c5ae" stroke-width="0.9" stroke-linejoin="round" />
<path d="M338.7,100.0 L320.0,110.7 L293.3,120.0 L274.7,126.7 L268.0,134.7 L266.7,145.3 L265.3,153.3" fill="none" stroke="#f3c5ae" stroke-width="0.9" stroke-linejoin="round" />
<path d="M915.3,55.3 L910.7,70.0 L908.0,90.0 L904.0,106.0 L893.3,122.0 L886.7,136.7 L888.7,155.0" fill="none" stroke="#f3c5ae" stroke-width="0.9" stroke-linejoin="round" />
<path d="M744.0,173.3 L735.0,155.0 L727.0,138.0 L722.0,125.0 L715.0,100.0 L709.0,78.0 L704.0,55.0" fill="none" stroke="#f3c5ae" stroke-width="0.9" stroke-linejoin="round" />
<path d="M240.0,55.0 L200.0,80.0 L150.0,100.0 L131.7,130.0" fill="none" stroke="#f3c5ae" stroke-width="0.9" stroke-linejoin="round" />
<path d="M55.0,130.0 L90.0,120.0 L131.7,130.0" fill="none" stroke="#f3c5ae" stroke-width="0.9" stroke-linejoin="round" />
<path d="M100.8,130.0 L99.2,138.3 L105.0,151.7 L112.5,161.7 L114.2,171.7 L117.5,180.0 L118.3,188.3 L120.8,194.2" fill="none" stroke="#8a8574" stroke-width="0.6" stroke-linejoin="round" />
<path d="M100.8,130.0 L103.0,118.0 L107.0,108.0 L111.5,101.0" fill="none" stroke="#8a8574" stroke-width="0.6" stroke-linejoin="round" />
<path d="M239.8,55.0 L239.3,100.0 L237.3,180.0" fill="none" stroke="#8a8574" stroke-width="0.6" stroke-linejoin="round" />
<path d="M566.7,126.7 L565.0,118.0 L562.5,110.0 L559.0,102.0 L557.5,95.0 L558.5,87.0 L560.0,80.0 L563.0,72.0 L565.0,65.0 L564.0,60.0 L563.7,55.0" fill="none" stroke="#8a8574" stroke-width="0.6" stroke-linejoin="round" />
<path d="M634.7,164.7 L640.0,158.0" fill="none" stroke="#c9c9d6" stroke-width="0.7" stroke-linejoin="round" />
<path d="M720.0,172.0 L716.0,166.0 L712.0,160.0 L718.0,152.0 L724.0,150.0" fill="none" stroke="#c9c9d6" stroke-width="0.7" stroke-linejoin="round" />
<path d="M790.0,176.0 L795.0,170.0 L802.0,164.0 L808.0,158.0" fill="none" stroke="#c9c9d6" stroke-width="0.7" stroke-linejoin="round" />
<path d="M487.5,124.0 L486.5,118.0 L488.0,112.0 L490.0,105.0 L496.0,98.0 L505.0,90.0 L512.0,85.5 L517.5,83.7" fill="none" stroke="#c9c9d6" stroke-width="0.7" stroke-linejoin="round" />
<path d="M588.0,160.5 L592.0,156.0 L597.0,153.0" fill="none" stroke="#c9c9d6" stroke-width="0.7" stroke-linejoin="round" />
<g fill="none" stroke="#3b3b3b" stroke-width="1.05" stroke-linejoin="round">
<path d="M360.0,118.3 L352.0,122.0 L347.3,126.7 L346.0,140.0 L344.7,150.7 L349.3,158.7 L353.3,165.3 L356.0,169.0"/><path d="M396.3,120.7 L392.0,186.0"/><path d="M434.7,123.0 L431.3,181.3"/><path d="M468.7,124.4 L467.3,155.3 L484.7,156.7"/><path d="M520.0,126.0 L514.7,133.3 L510.7,141.3 L510.0,144.0 L520.7,144.4 L521.3,149.3 L525.3,150.0"/><path d="M484.7,156.7 L488.0,148.0 L494.7,148.0 L497.3,152.7 L507.3,152.7 L510.0,144.0"/><path d="M525.3,150.0 L524.7,174.0"/><path d="M524.7,174.0 L520.0,174.7 L518.7,188.0 L484.0,186.0 L470.7,190.7"/><path d="M484.7,156.7 L479.3,165.3 L482.7,177.3 L480.0,185.3 L470.7,190.7 L468.7,202.7"/><path d="M520.0,174.7 L529.3,175.0 L550.7,174.0 L551.3,170.7 L571.3,171.3"/><path d="M580.7,160.0 L577.3,165.0 L571.3,171.3 L565.3,185.3 L562.7,196.0 L560.0,203.3 L554.7,215.3 L550.7,227.3 L556.0,236.7 L562.0,241.3 L560.0,250.0 L561.3,259.3 L557.3,263.3 L546.7,270.0"/><path d="M529.3,175.0 L527.3,190.0 L528.0,215.0 L526.7,246.0"/><path d="M528.0,215.0 L554.7,215.6"/><path d="M562.0,239.3 L564.0,237.3 L607.3,238.7"/><path d="M577.3,171.3 L578.7,178.7 L586.7,181.3 L588.0,186.7 L594.7,188.0 L596.0,193.3 L600.0,196.0"/><path d="M634.7,164.7 L630.0,173.3 L624.7,180.0 L623.3,186.0 L610.0,192.0 L600.7,196.0 L594.0,202.7 L594.0,209.3 L596.7,220.0 L600.7,230.7 L607.3,238.7 L616.7,242.7 L624.7,243.3"/><path d="M662.7,166.7 L664.0,182.7 L658.7,183.3 L658.7,189.3 L655.3,193.3 L654.7,210.7 L654.7,230.0"/><path d="M597.0,206.7 L638.7,206.7 L639.3,210.0 L654.7,210.7"/><path d="M701.3,170.0 L700.7,177.3 L690.0,182.7 L688.0,190.7 L686.0,197.3 L682.0,201.3 L682.0,206.7 L672.7,212.0 L667.3,222.7 L663.3,230.7"/><path d="M682.0,208.0 L713.3,208.7 L714.0,213.0 L736.7,213.0"/><path d="M723.3,213.3 L724.0,240.0 L724.7,262.0"/><path d="M734.0,172.7 L736.7,185.3 L740.7,196.0 L742.0,202.7 L736.7,212.0 L735.3,220.0 L738.0,230.7 L750.0,232.0 L760.0,240.0 L765.3,248.0 L770.7,260.0"/><path d="M742.0,202.7 L740.0,201.3 L745.3,196.0 L756.0,194.0 L766.7,198.7 L774.7,204.0 L779.3,206.7"/><path d="M788.0,176.7 L786.7,182.7 L790.7,189.3 L794.0,197.3 L790.7,204.0 L785.3,206.7 L779.3,206.7"/><path d="M779.3,206.7 L780.0,244.0 L782.7,246.7 L780.0,250.7"/><path d="M724.7,262.0 L769.3,262.0"/><path d="M724.7,262.0 L728.0,264.0 L726.0,273.0 L723.0,279.0 L717.3,280.0"/><path d="M770.7,260.0 L766.0,264.0 L764.0,274.7 L762.0,286.7 L764.0,290.7 L760.0,302.7 L754.7,312.0 L749.3,317.3 L744.0,320.0"/><path d="M770.7,260.0 L780.0,250.7 L785.3,257.3 L793.3,262.0 L798.7,257.3 L802.7,250.7 L805.3,249.3 L814.7,251.3 L820.0,257.3 L828.0,260.0 L844.0,262.7 L852.0,262.0"/><path d="M812.7,232.0 L805.3,236.0 L801.3,244.0 L805.3,249.3"/><path d="M814.7,251.3 L825.3,249.3 L832.0,241.3 L838.7,234.7 L843.3,228.7"/><path d="M812.7,178.7 L812.7,228.0 L812.7,232.0"/><path d="M812.7,228.0 L851.3,227.3"/><path d="M851.7,202.7 L851.3,227.3 L852.0,262.0 L851.3,305.3"/><path d="M852.7,210.7 L882.7,180.0 L890.7,179.3 L896.0,181.0 L905.0,183.0 L911.0,184.0"/><path d="M852.0,222.3 L886.7,222.7"/><path d="M911.3,199.3 L911.3,231.3 L901.3,231.3 L893.3,228.7"/><path d="M852.0,262.0 L870.7,264.7 L876.0,261.3 L894.7,261.3"/><path d="M792.4,262.0 L792.0,291.3"/><path d="M764.0,290.0 L780.0,290.0 L784.0,292.0 L792.0,291.7 L792.7,294.7"/><path d="M792.7,294.7 L802.0,295.0 L802.7,300.7 L817.3,301.6"/><path d="M817.3,301.6 L834.7,301.6 L837.3,306.7 L845.3,307.3 L851.3,305.3"/><path d="M851.3,302.7 L854.7,299.3 L872.0,297.3 L873.3,301.3 L878.7,302.0 L880.0,308.0 L882.7,308.7 L883.3,313.3 L890.7,314.0"/><path d="M817.3,301.6 L816.7,330.7 L804.7,331.3 L804.0,350.7"/><path d="M784.0,354.7 L788.0,352.0 L796.0,353.3 L802.7,350.7 L809.3,349.3 L816.0,353.3 L826.7,360.0 L830.7,369.3 L839.3,378.7 L833.3,385.3 L829.3,393.3 L834.7,402.0 L841.3,403.3 L845.3,407.3 L850.7,409.3 L850.7,414.0"/><path d="M793.3,390.0 L814.7,390.0 L816.0,392.7 L829.3,392.7"/><path d="M789.3,418.7 L831.3,418.7 L832.0,413.7 L850.7,413.7"/><path d="M850.7,414.0 L850.7,438.7 L846.7,439.3 L846.7,448.0"/><path d="M778.0,447.3 L846.7,448.3 L850.7,448.7"/><path d="M792.7,448.0 L792.4,465.3"/><path d="M850.7,448.7 L851.6,506.0"/><path d="M803.3,506.0 L851.6,506.0 L900.7,506.7 L978.7,506.3"/><path d="M851.6,506.0 L851.6,540.0 L852.0,575.0"/><path d="M800.7,535.7 L831.3,536.0 L831.6,555.3 L851.6,555.3"/><path d="M851.6,540.3 L900.7,540.7"/><path d="M900.7,506.7 L900.7,575.0 L901.0,604.0 L901.3,642.7 L892.0,643.3 L891.3,654.0 L872.0,654.0"/><path d="M830.0,575.7 L852.0,575.0 L900.7,575.0 L930.7,575.0 L931.3,565.3 L940.0,564.7 L940.7,555.3 L960.0,554.7"/><path d="M850.0,604.4 L901.0,604.0 L920.0,604.0 L964.0,603.3"/><path d="M901.3,633.0 L930.7,632.7 L931.7,660.7 L970.0,660.3"/><path d="M827.3,360.0 L890.7,360.0 L891.3,340.0 L891.3,333.3 L890.7,314.0"/><path d="M861.3,360.7 L860.7,432.0 L857.3,432.7 L856.0,431.3 L851.3,432.0"/><path d="M860.7,428.0 L870.7,428.0 L872.0,426.7 L877.3,428.0 L890.7,428.7 L969.3,428.3"/><path d="M890.7,380.0 L890.7,437.3 L900.0,438.7 L904.7,445.3 L905.3,451.3 L912.0,452.0 L912.0,457.3 L921.3,458.0 L920.0,464.0"/><path d="M890.7,380.0 L914.0,379.7"/><path d="M910.7,398.0 L910.7,386.7 L914.7,380.0 L914.7,373.3 L919.3,370.0"/><path d="M910.7,398.0 L960.0,398.7"/><path d="M959.3,378.7 L982.7,378.0"/><path d="M959.3,378.7 L960.0,398.7"/><path d="M969.3,428.0 L970.0,440.0 L969.3,486.0 L969.3,506.0"/><path d="M969.3,486.0 L1006.0,485.6 L1007.3,482.7"/><path d="M978.7,506.3 L979.3,515.0 L989.3,515.3"/><path d="M979.3,515.0 L1021.3,515.3"/><path d="M989.3,515.3 L989.3,561.3"/><path d="M990.0,554.4 L1030.7,554.0"/><path d="M996.7,582.4 L1048.0,581.3"/><path d="M969.3,605.3 L970.7,640.0 L971.3,691.3 L972.0,710.7 L972.7,740.0 L973.3,760.0 L974.7,780.0"/><path d="M971.3,652.0 L1052.7,651.3"/><path d="M972.0,691.3 L991.3,691.3 L992.0,693.0 L1029.3,692.7 L1030.7,691.3 L1049.3,690.7"/><path d="M924.0,711.3 L972.0,710.0"/><path d="M920.0,464.0 L919.3,466.0 L924.0,470.0 L935.3,484.0 L940.7,493.3 L943.3,504.0 L942.0,512.0 L936.7,520.0 L943.3,530.7 L952.7,538.7 L958.0,549.3 L966.0,557.3 L970.7,561.3"/><path d="M902.7,272.0 L903.3,285.3"/><path d="M903.3,285.3 L922.0,284.7 L922.7,282.0 L933.3,280.0"/><path d="M903.3,285.3 L902.7,298.7 L905.3,302.7 L912.7,310.7 L914.0,325.3"/><path d="M914.0,325.3 L940.0,324.7 L940.0,308.0 L945.3,306.7"/><path d="M900.0,316.0 L912.7,314.7"/><path d="M846.7,440.0 L846.7,448.0"/>
</g>
<path d="M871.3,527.3 L872.5,533.0 L874.0,538.7 L872.8,542.0 L873.2,545.5 L870.5,549.0 L869.5,553.0 L867.3,556.5 L867.6,560.0 L864.0,566.0 L860.0,572.0 L858.7,576.0" fill="none" stroke="#707070" stroke-width="0.8" stroke-linejoin="round" />
<path d="M886.7,609.3 L900.0,606.0 L913.3,604.0 L924.0,602.0 L940.0,601.3 L950.0,598.0" fill="none" stroke="#8a8a8a" stroke-width="0.7" stroke-linejoin="round" />
<g font-size="12.5" fill="#2a2822" fill-opacity="0.82">
<text x="319.3" y="134.0">Es.</text><text x="359.3" y="131.3">Santa</text><text x="361.3" y="146.0">Rosa</text><text x="396.0" y="156.0">Okals.</text><text x="438.7" y="170.0">Counrt</text><text x="470.0" y="141.3">Holms.</text><text x="524.0" y="145.3">Jackson</text><text x="485.3" y="172.7">Wshn.</text><text x="487.3" y="200.0">Bay</text><text x="532.7" y="192.0">Clhn.</text><text x="579.3" y="177.3">Gdsdn.</text><text x="555.3" y="226.7">Liberty</text><text x="531.3" y="248.0">Gulf</text><text x="564.7" y="248.7">Frankln.</text><text x="628.7" y="188.0">Leon</text><text x="666.0" y="178.0">Jffrs.</text><text x="689.3" y="206.7">Madison</text><text x="602.7" y="227.3">Wakulla</text><text x="684.7" y="242.0">Taylor</text><text x="741.3" y="192.0">Hamiltn.</text><text x="814.7" y="210.7">Baker</text><text x="856.7" y="175.0">Nassau</text><text x="859.3" y="216.7">Duvl.</text><text x="742.7" y="224.7">Swnn.</text><text x="784.0" y="222.0">Clm.</text><text x="807.3" y="244.7">Un.</text><text x="832.7" y="252.7">Br.</text><text x="859.3" y="248.7">Clay</text><text x="728.7" y="248.7">Lfytt.</text><text x="729.3" y="291.3">Dixie</text><text x="772.0" y="323.3">Levy</text><text x="804.0" y="293.3">Alachua</text><text x="831.3" y="348.5">Marion</text><text x="903.3" y="252.0">Sn.</text><text x="904.7" y="266.0">Jh.</text><text x="862.7" y="290.7">Ptn.</text><text x="916.0" y="306.0">Flgl.</text><text x="922.0" y="359.3">Volusia</text><text x="796.0" y="375.3">Citrus</text><text x="796.7" y="409.3">Hrnnd.</text><text x="800.7" y="436.0">Pasco</text><text x="838.0" y="393.3">Sm.</text><text x="870.7" y="378.0">Lake</text><text x="916.7" y="388.0">Smnl.</text><text x="892.7" y="414.7">Orn.</text><text x="917.3" y="453.3">Osceola</text><text x="875.3" y="474.7">Polk</text><text x="779.6" y="484.7">P.</text><text x="814.0" y="502.7">Hllsb.</text><text x="808.7" y="520.0">Manat.</text><text x="854.0" y="521.3">Hardee</text><text x="814.0" y="566.7">Srst.</text><text x="868.0" y="563.3">Dest.</text><text x="856.0" y="593.3">C.</text><text x="874.0" y="630.7">Lee</text><text x="903.3" y="553.3">Highlnds.</text><text x="918.0" y="599.3">Glades</text><text x="922.0" y="628.0">Hendry</text><text x="945.0" y="527.3">Okchb.</text><text x="971.3" y="482.0">Brvrd.</text><text x="982.0" y="498.0">Indin.</text><text x="982.0" y="512.7">River</text><text x="994.7" y="532.0">Saint</text><text x="994.0" y="547.3">Lucie</text><text x="996.7" y="573.3">Martin</text><text x="981.3" y="624.0">Palm Beach</text><text x="906.7" y="688.0">Collier</text><text x="987.3" y="675.8">Broward</text><text x="938.0" y="732.0">Monr.</text><text x="984.7" y="728.0">Miami-</text><text x="988.7" y="742.7">Dade</text>
</g>
<g font-size="12.5" fill="#111">
<text transform="translate(347.8,177.2) rotate(-80)" font-style="italic" font-size="11.9">Escambia</text><text transform="translate(757.3,235.2) rotate(62)">Suwannee</text><text transform="translate(902.5,285) rotate(84)">St. Johns</text><text transform="translate(906,472) rotate(63)">Kissimmee</text><text transform="translate(846.2,575.2) rotate(-52.7)">Peace</text>
</g>
<g fill="#000"><circle cx="351.5" cy="182.3" r="2.2"/><circle cx="500.7" cy="219.0" r="2.2"/><circle cx="890.3" cy="206.3" r="2.2"/><circle cx="825.0" cy="282.7" r="2.2"/><circle cx="843.0" cy="334.7" r="2.2"/><circle cx="918.7" cy="407.0" r="2.2"/><circle cx="915.7" cy="434.7" r="2.2"/><circle cx="975.0" cy="398.4" r="2.2"/><circle cx="1017.3" cy="506.0" r="2.2"/><circle cx="811.0" cy="473.0" r="2.2"/><circle cx="777.0" cy="470.7" r="2.2"/><circle cx="803.3" cy="541.3" r="2.2"/><circle cx="870.0" cy="618.7" r="2.2"/><circle cx="877.7" cy="674.0" r="2.2"/><circle cx="1054.0" cy="608.3" r="2.2"/><circle cx="1046.0" cy="674.3" r="2.2"/><circle cx="1041.6" cy="712.7" r="2.2"/></g>
<circle cx="635.7" cy="191.2" r="5.3" fill="none" stroke="#5a4a20" stroke-width="0.5"/><path d="M635.7,186.2 L636.9,189.8 L640.6,189.8 L637.6,192.0 L638.8,195.6 L635.7,193.4 L632.6,195.6 L633.8,192.0 L630.8,189.8 L634.5,189.8Z" fill="#000"/>
<g font-size="15.1" fill="#000">
<text x="282.0" y="205.3">Pensacola</text><text x="437.5" y="231.2">Panama</text><text x="437.5" y="248.7">City</text><text x="897.3" y="215.3">Jacksonville</text><text x="822.7" y="276.0">Gainesville</text><text x="844.0" y="329.3">Ocala</text><text x="905.3" y="402.0">Orlando</text><text x="916.7" y="430.0">Kissimmee</text><text x="988.7" y="393.7">Titusville</text><text x="1023.7" y="483.7">Vero</text><text x="1023.7" y="501.7">Beach</text><text x="813.3" y="468.7">Tampa</text><text x="696.0" y="473.2">Clearwater</text><text x="805.3" y="536.0">Sarasota</text><text x="871.3" y="596.0">Fort</text><text x="872.0" y="614.0">Myers</text><text x="878.7" y="669.3">Naples</text><text x="1058.7" y="586.2">West Palm</text><text x="1058.7" y="603.7">Beach</text><text x="1056.2" y="656.0">Fort</text><text x="1056.2" y="673.7">Lauderdale</text><text x="1052.7" y="720.7">Miami</text>
</g>
<text x="512.5" y="209.2" font-size="16.2" font-weight="bold" fill="#000">TALLAHASSEE</text>
</g>
<g id="usda">
<text x="58.6" y="74.7" class="serif" font-size="25.6" font-weight="bold" fill="#1b4a8c" textLength="61" lengthAdjust="spacingAndGlyphs">USDA</text>
<rect x="59" y="77.8" width="60.7" height="21.9" fill="#0a5c3f"/>
<path d="M59,81.9 C70,82.6 82,81.2 119.7,80.6 M59,85.6 C78,81.8 95,81.6 119.7,81.6 M59,91.2 C80,84.2 100,83 119.7,82.7" fill="none" stroke="#f4ecd1" stroke-width="1.7"/>
</g>
<text x="135.5" y="74" font-size="20" fill="#222" textLength="275.5" lengthAdjust="spacingAndGlyphs">Agricultural Research Service</text>
<text x="135.5" y="94.6" font-size="11.3" fill="#222" textLength="205.5" lengthAdjust="spacingAndGlyphs">U.S. DEPARTMENT OF AGRICULTURE</text>
<text x="182.9" y="336.8" font-size="30.37" fill="#000">2023 USDA Plant Hardiness Zone Map</text>
<text x="368.2" y="391.3" font-size="45.3" fill="#000">Florida</text>
<g font-weight="bold" font-size="18.8" text-anchor="middle" fill="#111">
<text x="434" y="462.4">Average Annual Extreme</text>
<text x="434.3" y="483.2">Minimum Temperature</text>
<text x="434" y="505">1991-2020</text></g>
<g font-size="14.2" fill="#111"><text x="345" y="533">Temp (F)</text><text x="411.2" y="533">Zone</text><text x="460" y="533">Temp (C)</text></g>
<g font-size="14.5" fill="#111">
<rect x="404.6" y="545.7" width="46" height="22.6" fill="#ecc853" stroke="#777" stroke-width="1"/><text x="400.2" y="563.7" text-anchor="end">15 to 20</text><text x="430" y="562.9" text-anchor="middle">8b</text><text x="460" y="563.7">-9.4 to -6.7</text>
<rect x="404.6" y="577.5" width="46" height="22.6" fill="#dbb54e" stroke="#777" stroke-width="1"/><text x="400.2" y="595.5" text-anchor="end">20 to 25</text><text x="430" y="594.7" text-anchor="middle">9a</text><text x="460" y="595.5">-6.7 to -3.9</text>
<rect x="404.6" y="608.7" width="46" height="22.6" fill="#f5b57a" stroke="#777" stroke-width="1"/><text x="400.2" y="626.7" text-anchor="end">25 to 30</text><text x="430" y="625.9" text-anchor="middle">9b</text><text x="460" y="626.7">-3.9 to -1.1</text>
<rect x="404.6" y="639.5" width="46" height="22.6" fill="#eb9e3b" stroke="#777" stroke-width="1"/><text x="400.2" y="657.5" text-anchor="end">30 to 35</text><text x="430" y="656.7" text-anchor="middle">10a</text><text x="460" y="657.5">-1.1 to 1.7</text>
<rect x="404.6" y="670.7" width="46" height="22.6" fill="#e57b25" stroke="#777" stroke-width="1"/><text x="400.2" y="688.7" text-anchor="end">35 to 40</text><text x="430" y="687.9" text-anchor="middle">10b</text><text x="462" y="688.7">1.7 to 4.4</text>
<rect x="404.6" y="701.2" width="46" height="22.6" fill="#e4591f" stroke="#777" stroke-width="1"/><text x="400.2" y="719.2" text-anchor="end">40 to 45</text><text x="430" y="718.4" text-anchor="middle">11a</text><text x="459.5" y="720.4">4.4 to 7.2</text>
<rect x="404.6" y="731.7" width="46" height="22.6" fill="#e8856a" stroke="#777" stroke-width="1"/><text x="400.2" y="749.7" text-anchor="end">45 to 50</text><text x="430" y="748.9" text-anchor="middle">11b</text><text x="459.5" y="749.7">7.2 to 10</text>
</g>
<g font-size="16.15" fill="#000">
<rect x="546.2" y="811.2" width="98.8" height="9.5" fill="#000"/><rect x="572" y="813" width="23.5" height="6.2" fill="#bfe8ff"/>
<rect x="545.5" y="830.5" width="102.5" height="9" fill="#000"/><rect x="572" y="832" width="24.2" height="6" fill="#bfe8ff"/>
<text x="542.7" y="803.7">0</text><text x="563" y="803.7">15</text><text x="587.2" y="803.7">30</text><text x="635.5" y="803.7">60 Miles</text>
<text x="542.2" y="857.5">0</text><text x="562" y="857.5">25</text><text x="587.6" y="857.5">50</text><text x="634.6" y="857.5">100 Kilometers</text>
</g>
<rect x="55.5" y="756.2" width="109.2" height="115.5" fill="#fff" stroke="#9a9a9a" stroke-width="0.7"/>
<text x="110" y="840.7" class="serif" font-size="17" font-weight="bold" fill="#d73f09" text-anchor="middle" textLength="95" lengthAdjust="spacingAndGlyphs">Oregon State</text>
<text x="110" y="858.9" class="serif" font-size="17" fill="#111" text-anchor="middle" textLength="69" lengthAdjust="spacingAndGlyphs">University</text>
<g id="osu-crest">
<path d="M93.5,778.2 C88.3,782.5 86,790 87.1,798 C88.6,806.5 96.5,815.5 109.7,825.4 C123,815.5 130.8,806.5 132.4,798 C133.6,790 132.8,783.2 129.6,778.6 C126.5,776.2 123.2,776.6 120.5,778.2 Z" fill="#0b0b0b"/>
<path d="M94.6,780.2 C90.3,784 88.4,790.5 89.3,797.6 C90.7,805.2 98,813.6 109.7,822.6 C121.5,813.6 128.8,805.2 130.2,797.6 C131.2,790.8 130.6,785 128.2,780.8" fill="none" stroke="#fff" stroke-width="0.55"/>
<path d="M96.5,779.8 C100,770.5 106,766.2 113,766 C117,765.8 120,767.2 122.2,768.2 C124.5,768 126.2,769.6 125.6,771.8 C125.2,773.6 123.4,774.2 122.4,775.4 L122.8,778.6 L117.5,779 L116.6,777 L110.5,779.2 L106.5,779.6 L107.5,777.2 C104,778 99.5,779.6 96.5,779.8Z" fill="#fff" stroke="#0b0b0b" stroke-width="0.9" stroke-linejoin="round"/>
<path d="M108.5,772.5 C110.5,771 113,771.5 114,773.5 M118.8,769.6 L119.6,770.4" fill="none" stroke="#0b0b0b" stroke-width="0.6"/>
<ellipse cx="94.8" cy="780.2" rx="2.6" ry="5.2" transform="rotate(32 94.8 780.2)" fill="#fff" stroke="#0b0b0b" stroke-width="0.9"/>
<path d="M100.5,779.5 L108.5,779.5 L103.2,790 Z" fill="#fff"/>
<path d="M90,795.5 L100,790.2 M92.5,790.5 L100,789.2 M96,786 L100.6,788.6 M99.2,783.6 L101.6,788 M104.6,790.2 L102.5,788.2" stroke="#fff" stroke-width="0.7" fill="none"/>
<path d="M98,792.6 A3.4,3.4 0 0 1 104.8,792.6 Z" fill="#fff"/>
<path d="M89.4,795.8 C92,794 94.5,797 97.2,795.4 C100,793.8 102.5,796.6 105.4,795.2 M89.8,798.6 C92.4,796.8 94.8,799.8 97.5,798.2 C100.2,796.6 102.8,799.4 105.6,798 M90.6,801.4 C93,799.8 95.4,802.6 98,801 C100.6,799.4 103,802.2 105.8,800.8" fill="none" stroke="#fff" stroke-width="0.85"/>
<path d="M109.7,782.5 L112.6,811.5 L110.4,811.5 L110.4,819.5 L109,819.5 L109,811.5 L106.8,811.5 Z" fill="#fff"/>
<path d="M113.4,801 L113.4,793.4 L115.4,791.2 L117,793 L119.2,789.6 L121.4,792.6 L123.4,790.4 L125.6,793 L127.4,791.6 L129.6,794.4 L129.6,801 Z" fill="#fff"/>
<text x="121.5" y="799.6" font-size="3.6" font-weight="bold" text-anchor="middle" fill="#0b0b0b" letter-spacing="0.4">1868</text>
<path d="M115.8,785.2 l0.5,1.3 1.4,0 -1.1,0.9 0.4,1.4 -1.2,-0.8 -1.2,0.8 0.4,-1.4 -1.1,-0.9 1.4,0z M121.2,783 l0.5,1.3 1.4,0 -1.1,0.9 0.4,1.4 -1.2,-0.8 -1.2,0.8 0.4,-1.4 -1.1,-0.9 1.4,0z M126.4,785.2 l0.5,1.3 1.4,0 -1.1,0.9 0.4,1.4 -1.2,-0.8 -1.2,0.8 0.4,-1.4 -1.1,-0.9 1.4,0z" fill="#fff"/>
<path d="M99.4,803.6 L106.2,804.6 L106.2,815.4 L99.4,814.2 Z M113.2,804.6 L120,803.6 L120,814.2 L113.2,815.4 Z" fill="#fff"/>
<path d="M100.2,806.4 L105.4,807.2 M100.2,808.6 L105.4,809.4 M100.2,810.8 L105.4,811.6 M114,807.2 L119.2,806.4 M114,809.4 L119.2,808.6 M114,811.6 L119.2,810.8" stroke="#0b0b0b" stroke-width="0.5" fill="none"/>
</g>
<g font-size="13.65" fill="#111"><text x="185.5" y="811.2">Mapping by the</text><text x="185.5" y="826.8">PRISM Climate Group</text><text x="185.5" y="842.4">College of Engineering</text><text x="185.5" y="858">Oregon State University</text></g>
<text x="826.8" y="812.3" font-size="15.6">Florida Keys (11b)</text>
<rect x="54.5" y="54.5" width="1091" height="817.5" fill="none" stroke="#000" stroke-width="1.3"/>
</svg></body></html>
